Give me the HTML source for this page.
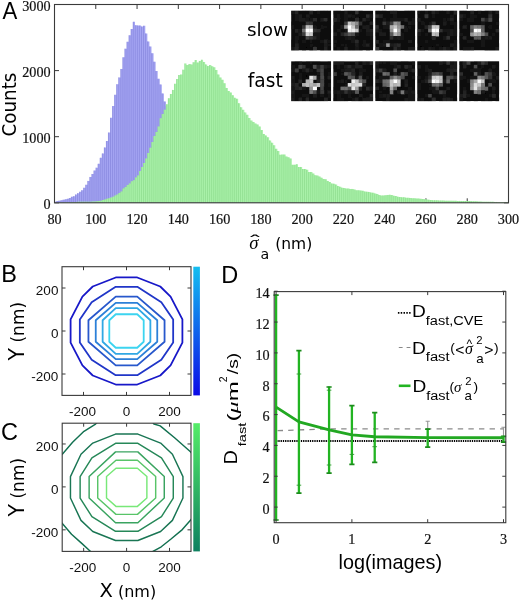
<!DOCTYPE html><html><head><meta charset="utf-8"><style>html,body{margin:0;padding:0;background:#fff;width:520px;height:601px;overflow:hidden}svg{display:block}</style></head><body><svg width="520" height="601" viewBox="0 0 520 601"><path d="M54.5 202.8v-4.5M54.5 4.5v4.5M95.77 202.8v-4.5M95.77 4.5v4.5M137.05 202.8v-4.5M137.05 4.5v4.5M178.32 202.8v-4.5M178.32 4.5v4.5M219.59 202.8v-4.5M219.59 4.5v4.5M260.86 202.8v-4.5M260.86 4.5v4.5M302.14 202.8v-4.5M302.14 4.5v4.5M343.41 202.8v-4.5M343.41 4.5v4.5M384.68 202.8v-4.5M384.68 4.5v4.5M425.95 202.8v-4.5M425.95 4.5v4.5M467.23 202.8v-4.5M467.23 4.5v4.5M508.5 202.8v-4.5M508.5 4.5v4.5M54.5 202.8h4.5M508.5 202.8h-4.5M54.5 136.7h4.5M508.5 136.7h-4.5M54.5 70.6h4.5M508.5 70.6h-4.5M54.5 4.5h4.5M508.5 4.5h-4.5" stroke="#3a3a3a" stroke-width="1" fill="none"/><path d="M54.5 202.8V201.63H56.56V201.04H58.63V200.63H60.69V200.14H62.75V199.75H64.82V199.36H66.88V198.86H68.95V198H71.01V196.85H73.07V196.16H75.14V194.54H77.2V193.16H79.26V191.83H81.33V190.21H83.39V187.81H85.45V184.8H87.52V180.88H89.58V176.92H91.65V173.94H93.71V170.59H95.77V167.66H97.84V163.85H99.9V157.84H101.96V153.42H104.03V147.49H106.09V141.04H108.15V132.6H110.22V117.85H112.28V106.09H114.35V94.83H116.41V84.19H118.47V77.38H120.54V68.95H122.6V57.35H124.66V48.66H126.73V41.83H128.79V35.27H130.85V29.06H132.92V21.87H134.98V25.16H137.05V25.39H139.11V25.62H141.17V26.58H143.24V25.82H145.3V33.44H147.36V41.44H149.43V46.46H151.49V53.24H153.55V61.66H155.62V71.08H157.68V78.82H159.75V84.41H161.81V93.41H163.87V101.44H165.94V106.42H168V113.65H170.06V121.82H172.13V127.13H174.19V135.49H176.25V141.81H178.32V146.99H180.38V153.15H182.45V157.07H184.51V162.64H186.57V165.63H188.64V170.84H190.7V174.73H192.76V177.76H194.83V179.47H196.89V182.94H198.95V186.06H201.02V187.23H203.08V189.08H205.15V189.89H207.21V191.55H209.27V192.71H211.34V194.43H213.4V195.62H215.46V196.26H217.53V196.55H219.59V197.27H221.65V197.6H223.72V198H225.78V198.44H227.85V198.8H229.91V199.15H231.97V199.56H234.04V199.98H236.1V200.48H238.16V200.8H240.23V201.02H242.29V201.07H244.35V201.14H246.42V201.2H248.48V201.21H250.55V201.25H252.61V201.34H254.67V201.42H256.74V201.46H258.8V201.5H260.86V201.54H262.93V201.6H264.99V201.65H267.05V201.72H269.12V201.74H271.18V201.81H273.25V201.86H275.31V201.92H277.37V201.96H279.44V202.04H281.5V202.08H283.56V202.13H285.63V202.15H287.69V202.22H289.75V202.26H291.82V202.33H293.88V202.36H295.95V202.43H298.01V202.48H300.07V202.5H302.14V202.5H304.2V202.5H306.26V202.51H308.33V202.52H310.39V202.53H312.45V202.52H314.52V202.53H316.58V202.53H318.65V202.54H320.71V202.53H322.77V202.54H324.84V202.53H326.9V202.54H328.96V202.54H331.03V202.55H333.09V202.55H335.15V202.55H337.22V202.55H339.28V202.56H341.35V202.56H343.41V202.56H345.47V202.57H347.54V202.58H349.6V202.57H351.66V202.57H353.73V202.57H355.79V202.58H357.85V202.59H359.92V202.59H361.98V202.59H364.05V202.59H366.11V202.6H368.17V202.6H370.24V202.6H372.3V202.6H374.36V202.61H376.43V202.61H378.49V202.61H380.55V202.61H382.62V202.62H384.68V202.62H386.75V202.62H388.81V202.63H390.87V202.63H392.94V202.64H395V202.64H397.06V202.64H399.13V202.65H401.19V202.64H403.25V202.65H405.32V202.65H407.38V202.66H409.45V202.66H411.51V202.66H413.57V202.67H415.64V202.67H417.7V202.67H419.76V202.67H421.83V202.67H423.89V202.68H425.95V202.68H428.02V202.69H430.08V202.69H432.15V202.69H434.21V202.69H436.27V202.7H438.34V202.7H440.4V202.7H442.46V202.7H444.53V202.71H446.59V202.71H448.65V202.72H450.72V202.72H452.78V202.72H454.85V202.72H456.91V202.72H458.97V202.73H461.04V202.73H463.1V202.73H465.16V202.74H467.23V202.74H469.29V202.74H471.35V202.75H473.42V202.75H475.48V202.75H477.55V202.76H479.61V202.76H481.67V202.76H483.74V202.76H485.8V202.77H487.86V202.77H489.93V202.77H491.99V202.78H494.05V202.78H496.12V202.78H498.18V202.78H500.25V202.79H502.31V202.79H504.37V202.79H506.44V202.8H508.5V202.8Z" fill="#a5a5f3"/><path d="M54.8 201.63V202.8M56.86 201.04V202.8M58.93 200.63V202.8M60.99 200.14V202.8M63.05 199.75V202.8M65.12 199.36V202.8M67.18 198.86V202.8M69.25 198V202.8M71.31 196.85V202.8M73.37 196.16V202.8M75.44 194.54V202.8M77.5 193.16V202.8M79.56 191.83V202.8M81.63 190.21V202.8M83.69 187.81V202.8M85.75 184.8V202.8M87.82 180.88V202.8M89.88 176.92V202.8M91.95 173.94V202.8M94.01 170.59V202.8M96.07 167.66V202.8M98.14 163.85V202.8M100.2 157.84V202.8M102.26 153.42V202.8M104.33 147.49V202.8M106.39 141.04V202.8M108.45 132.6V202.8M110.52 117.85V202.8M112.58 106.09V202.8M114.65 94.83V202.8M116.71 84.19V202.8M118.77 77.38V202.8M120.84 68.95V202.8M122.9 57.35V202.8M124.96 48.66V202.8M127.03 41.83V202.8M129.09 35.27V202.8M131.15 29.06V202.8M133.22 21.87V202.8M135.28 25.16V202.8M137.35 25.39V202.8M139.41 25.62V202.8M141.47 26.58V202.8M143.54 25.82V202.8M145.6 33.44V202.8M147.66 41.44V202.8M149.73 46.46V202.8M151.79 53.24V202.8M153.85 61.66V202.8M155.92 71.08V202.8M157.98 78.82V202.8M160.05 84.41V202.8M162.11 93.41V202.8M164.17 101.44V202.8M166.24 106.42V202.8M168.3 113.65V202.8M170.36 121.82V202.8M172.43 127.13V202.8M174.49 135.49V202.8M176.55 141.81V202.8M178.62 146.99V202.8M180.68 153.15V202.8M182.75 157.07V202.8M184.81 162.64V202.8M186.87 165.63V202.8M188.94 170.84V202.8M191 174.73V202.8M193.06 177.76V202.8M195.13 179.47V202.8M197.19 182.94V202.8M199.25 186.06V202.8M201.32 187.23V202.8M203.38 189.08V202.8M205.45 189.89V202.8M207.51 191.55V202.8M209.57 192.71V202.8M211.64 194.43V202.8M213.7 195.62V202.8M215.76 196.26V202.8M217.83 196.55V202.8M219.89 197.27V202.8M221.95 197.6V202.8M224.02 198V202.8M226.08 198.44V202.8M228.15 198.8V202.8M230.21 199.15V202.8M232.27 199.56V202.8M234.34 199.98V202.8M236.4 200.48V202.8M238.46 200.8V202.8M240.53 201.02V202.8M242.59 201.07V202.8M244.65 201.14V202.8M246.72 201.2V202.8M248.78 201.21V202.8M250.85 201.25V202.8M252.91 201.34V202.8M254.97 201.42V202.8M257.04 201.46V202.8M259.1 201.5V202.8M261.16 201.54V202.8M263.23 201.6V202.8M265.29 201.65V202.8M267.35 201.72V202.8M269.42 201.74V202.8M271.48 201.81V202.8M273.55 201.86V202.8M275.61 201.92V202.8M277.67 201.96V202.8" stroke="#8080d8" stroke-width="0.6" fill="none"/><path d="M54.5 202.8V202.76H56.56V202.68H58.63V202.59H60.69V202.52H62.75V202.44H64.82V202.34H66.88V202.28H68.95V202.19H71.01V202.1H73.07V202.04H75.14V201.94H77.2V201.84H79.26V201.79H81.33V201.76H83.39V201.74H85.45V201.69H87.52V201.69H89.58V201.66H91.65V201.6H93.71V201.5H95.77V201.22H97.84V200.91H99.9V200.69H101.96V200.08H104.03V199.41H106.09V198.8H108.15V198.17H110.22V197.6H112.28V196.64H114.35V195.59H116.41V194.4H118.47V193.09H120.54V191.38H122.6V188.45H124.66V186.88H126.73V185.1H128.79V183.58H130.85V181.24H132.92V180.17H134.98V177.44H137.05V175.44H139.11V171.04H141.17V166.91H143.24V162.97H145.3V158.47H147.36V152.96H149.43V147.68H151.49V141.93H153.55V136.09H155.62V131.91H157.68V126.47H159.75V118.19H161.81V113.97H163.87V109.73H165.94V104.33H168V98.32H170.06V93.98H172.13V89.89H174.19V83.87H176.25V79.05H178.32V75.01H180.38V74.48H182.45V69.67H184.51V63.5H186.57V65.09H188.64V64.07H190.7V64.39H192.76V62.26H194.83V60.12H196.89V62.57H198.95V60.9H201.02V59.85H203.08V61.92H205.15V64.42H207.21V66.11H209.27V65.03H211.34V66.22H213.4V67.27H215.46V69.98H217.53V74.44H219.59V77.51H221.65V79.85H223.72V83.27H225.78V87.91H227.85V90.94H229.91V92.62H231.97V95.29H234.04V97.82H236.1V98.81H238.16V103.2H240.23V107.13H242.29V109.87H244.35V112.39H246.42V114.83H248.48V117.92H250.55V120.59H252.61V121.89H254.67V123.49H256.74V124.47H258.8V126.55H260.86V130.12H262.93V133.96H264.99V135.45H267.05V137.34H269.12V140.41H271.18V142.63H273.25V145.32H275.31V148.86H277.37V150.95H279.44V154.68H281.5V154.52H283.56V154.62H285.63V156.5H287.69V157.28H289.75V158.48H291.82V164.85H293.88V164.79H295.95V164.22H298.01V167.02H300.07V166.94H302.14V169.05H304.2V168.99H306.26V169.77H308.33V172.11H310.39V171.94H312.45V173.56H314.52V175.13H316.58V175.6H318.65V176.54H320.71V177.63H322.77V178.92H324.84V179.36H326.9V180.88H328.96V181.91H331.03V183.47H333.09V183.72H335.15V184.6H337.22V186.06H339.28V186.81H341.35V187.72H343.41V188.04H345.47V188.62H347.54V188.58H349.6V189.05H351.66V188.88H353.73V189.55H355.79V190.35H357.85V190.26H359.92V190.59H361.98V190.84H364.05V191.48H366.11V191.76H368.17V191.9H370.24V192.55H372.3V192.84H374.36V193.51H376.43V194.02H378.49V195.01H380.55V195.54H382.62V195.4H384.68V195.14H386.75V194.95H388.81V194.86H390.87V195.03H392.94V195.67H395V196.11H397.06V196.68H399.13V197.12H401.19V197.3H403.25V197.32H405.32V197.65H407.38V197.85H409.45V197.96H411.51V198.14H413.57V198.23H415.64V198.4H417.7V198.53H419.76V198.83H421.83V198.98H423.89V199.2H425.95V199.42H428.02V199.74H430.08V200.06H432.15V200.17H434.21V200.2H436.27V200.36H438.34V200.44H440.4V200.5H442.46V200.57H444.53V200.65H446.59V200.68H448.65V200.73H450.72V200.73H452.78V200.85H454.85V200.86H456.91V200.96H458.97V200.88H461.04V200.98H463.1V201.02H465.16V201.02H467.23V201.07H469.29V201.11H471.35V201.18H473.42V201.25H475.48V201.36H477.55V201.48H479.61V201.58H481.67V201.65H483.74V201.72H485.8V201.76H487.86V201.82H489.93V201.83H491.99V201.87H494.05V201.93H496.12V201.96H498.18V202.01H500.25V202.05H502.31V202.1H504.37V202.13H506.44V202.19H508.5V202.8Z" fill="#a9f1a9"/><path d="M75.44 201.94V202.8M77.5 201.84V202.8M79.56 201.79V202.8M81.63 201.76V202.8M83.69 201.74V202.8M85.75 201.69V202.8M87.82 201.69V202.8M89.88 201.66V202.8M91.95 201.6V202.8M94.01 201.5V202.8M96.07 201.22V202.8M98.14 200.91V202.8M100.2 200.69V202.8M102.26 200.08V202.8M104.33 199.41V202.8M106.39 198.8V202.8M108.45 198.17V202.8M110.52 197.6V202.8M112.58 196.64V202.8M114.65 195.59V202.8M116.71 194.4V202.8M118.77 193.09V202.8M120.84 191.38V202.8M122.9 188.45V202.8M124.96 186.88V202.8M127.03 185.1V202.8M129.09 183.58V202.8M131.15 181.24V202.8M133.22 180.17V202.8M135.28 177.44V202.8M137.35 175.44V202.8M139.41 171.04V202.8M141.47 166.91V202.8M143.54 162.97V202.8M145.6 158.47V202.8M147.66 152.96V202.8M149.73 147.68V202.8M151.79 141.93V202.8M153.85 136.09V202.8M155.92 131.91V202.8M157.98 126.47V202.8M160.05 118.19V202.8M162.11 113.97V202.8M164.17 109.73V202.8M166.24 104.33V202.8M168.3 98.32V202.8M170.36 93.98V202.8M172.43 89.89V202.8M174.49 83.87V202.8M176.55 79.05V202.8M178.62 75.01V202.8M180.68 74.48V202.8M182.75 69.67V202.8M184.81 63.5V202.8M186.87 65.09V202.8M188.94 64.07V202.8M191 64.39V202.8M193.06 62.26V202.8M195.13 60.12V202.8M197.19 62.57V202.8M199.25 60.9V202.8M201.32 59.85V202.8M203.38 61.92V202.8M205.45 64.42V202.8M207.51 66.11V202.8M209.57 65.03V202.8M211.64 66.22V202.8M213.7 67.27V202.8M215.76 69.98V202.8M217.83 74.44V202.8M219.89 77.51V202.8M221.95 79.85V202.8M224.02 83.27V202.8M226.08 87.91V202.8M228.15 90.94V202.8M230.21 92.62V202.8M232.27 95.29V202.8M234.34 97.82V202.8M236.4 98.81V202.8M238.46 103.2V202.8M240.53 107.13V202.8M242.59 109.87V202.8M244.65 112.39V202.8M246.72 114.83V202.8M248.78 117.92V202.8M250.85 120.59V202.8M252.91 121.89V202.8M254.97 123.49V202.8M257.04 124.47V202.8M259.1 126.55V202.8M261.16 130.12V202.8M263.23 133.96V202.8M265.29 135.45V202.8M267.35 137.34V202.8M269.42 140.41V202.8M271.48 142.63V202.8M273.55 145.32V202.8M275.61 148.86V202.8M277.67 150.95V202.8M279.74 154.68V202.8M281.8 154.52V202.8M283.86 154.62V202.8M285.93 156.5V202.8M287.99 157.28V202.8M290.05 158.48V202.8M292.12 164.85V202.8M294.18 164.79V202.8M296.25 164.22V202.8M298.31 167.02V202.8M300.37 166.94V202.8M302.44 169.05V202.8M304.5 168.99V202.8M306.56 169.77V202.8M308.63 172.11V202.8M310.69 171.94V202.8M312.75 173.56V202.8M314.82 175.13V202.8M316.88 175.6V202.8M318.95 176.54V202.8M321.01 177.63V202.8M323.07 178.92V202.8M325.14 179.36V202.8M327.2 180.88V202.8M329.26 181.91V202.8M331.33 183.47V202.8M333.39 183.72V202.8M335.45 184.6V202.8M337.52 186.06V202.8M339.58 186.81V202.8M341.65 187.72V202.8M343.71 188.04V202.8M345.77 188.62V202.8M347.84 188.58V202.8M349.9 189.05V202.8M351.96 188.88V202.8M354.03 189.55V202.8M356.09 190.35V202.8M358.15 190.26V202.8M360.22 190.59V202.8M362.28 190.84V202.8M364.35 191.48V202.8M366.41 191.76V202.8M368.47 191.9V202.8M370.54 192.55V202.8M372.6 192.84V202.8M374.66 193.51V202.8M376.73 194.02V202.8M378.79 195.01V202.8M380.85 195.54V202.8M382.92 195.4V202.8M384.98 195.14V202.8M387.05 194.95V202.8M389.11 194.86V202.8M391.17 195.03V202.8M393.24 195.67V202.8M395.3 196.11V202.8M397.36 196.68V202.8M399.43 197.12V202.8M401.49 197.3V202.8M403.55 197.32V202.8M405.62 197.65V202.8M407.68 197.85V202.8M409.75 197.96V202.8M411.81 198.14V202.8M413.87 198.23V202.8M415.94 198.4V202.8M418 198.53V202.8M420.06 198.83V202.8M422.13 198.98V202.8M424.19 199.2V202.8M426.25 199.42V202.8M428.32 199.74V202.8M430.38 200.06V202.8M432.45 200.17V202.8M434.51 200.2V202.8M436.57 200.36V202.8M438.64 200.44V202.8M440.7 200.5V202.8M442.76 200.57V202.8M444.83 200.65V202.8M446.89 200.68V202.8M448.95 200.73V202.8M451.02 200.73V202.8M453.08 200.85V202.8M455.15 200.86V202.8M457.21 200.96V202.8M459.27 200.88V202.8M461.34 200.98V202.8M463.4 201.02V202.8M465.46 201.02V202.8M467.53 201.07V202.8M469.59 201.11V202.8M471.65 201.18V202.8M473.72 201.25V202.8M475.78 201.36V202.8M477.85 201.48V202.8M479.91 201.58V202.8M481.97 201.65V202.8M484.04 201.72V202.8M486.1 201.76V202.8M488.16 201.82V202.8M490.23 201.83V202.8M492.29 201.87V202.8M494.35 201.93V202.8M496.42 201.96V202.8" stroke="#88d788" stroke-width="0.6" fill="none"/><rect x="54.5" y="4.5" width="454" height="198.3" fill="none" stroke="#3a3a3a" stroke-width="1.1"/><g font-family="'Liberation Serif', serif" font-size="14.2" fill="#111" stroke="#111" stroke-width="0.2"><text x="54.5" y="223.6" text-anchor="middle">80</text><text x="95.77" y="223.6" text-anchor="middle">100</text><text x="137.05" y="223.6" text-anchor="middle">120</text><text x="178.32" y="223.6" text-anchor="middle">140</text><text x="219.59" y="223.6" text-anchor="middle">160</text><text x="260.86" y="223.6" text-anchor="middle">180</text><text x="302.14" y="223.6" text-anchor="middle">200</text><text x="343.41" y="223.6" text-anchor="middle">220</text><text x="384.68" y="223.6" text-anchor="middle">240</text><text x="425.95" y="223.6" text-anchor="middle">260</text><text x="467.23" y="223.6" text-anchor="middle">280</text><text x="508.5" y="223.6" text-anchor="middle">300</text><text x="50.6" y="209" text-anchor="end">0</text><text x="50.6" y="142.9" text-anchor="end">1000</text><text x="50.6" y="76.8" text-anchor="end">2000</text><text x="50.6" y="10.7" text-anchor="end">3000</text></g><text x="2.6" y="18.5" font-family="'Liberation Sans', sans-serif" font-size="23.2" fill="#000" textLength="14.8" lengthAdjust="spacingAndGlyphs">A</text><g transform="translate(15.5,136.6) rotate(-90)"><text x="0" y="0" font-family="'DejaVu Sans', sans-serif" font-size="19.6" fill="#000" textLength="64" lengthAdjust="spacingAndGlyphs">Counts</text></g><text x="249.2" y="248.5" font-family="'Liberation Serif', serif" font-size="18.7" fill="#000" font-style="italic">&#963;</text><text x="250.2" y="248.3" font-family="'Liberation Sans', sans-serif" font-size="19" fill="#000" textLength="9.6" lengthAdjust="spacingAndGlyphs">&#710;</text><text x="260.6" y="258.9" font-family="'DejaVu Sans', sans-serif" font-size="14.2" fill="#000">a</text><text x="275.2" y="248.9" font-family="'DejaVu Sans', sans-serif" font-size="15.5" fill="#000">(nm)</text><defs><filter id="blr" x="-5%" y="-5%" width="110%" height="110%"><feGaussianBlur stdDeviation="0.55"/></filter><clipPath id="imclip"><rect x="0" y="0" width="40" height="40"/></clipPath></defs><g transform="translate(291.1,10.6)" clip-path="url(#imclip)"><g filter="url(#blr)"><rect x="0" y="0" width="40" height="40" fill="#080808"/><rect x="0" y="0" width="4.04" height="4.04" fill="rgb(20,20,20)"/><rect x="3.64" y="0" width="4.04" height="4.04" fill="rgb(37,37,37)"/><rect x="7.27" y="0" width="4.04" height="4.04" fill="rgb(17,17,17)"/><rect x="10.91" y="0" width="4.04" height="4.04" fill="rgb(14,14,14)"/><rect x="14.55" y="0" width="4.04" height="4.04" fill="rgb(14,14,14)"/><rect x="18.18" y="0" width="4.04" height="4.04" fill="rgb(34,34,34)"/><rect x="25.45" y="0" width="4.04" height="4.04" fill="rgb(22,22,22)"/><rect x="29.09" y="0" width="4.04" height="4.04" fill="rgb(13,13,13)"/><rect x="32.73" y="0" width="4.04" height="4.04" fill="rgb(11,11,11)"/><rect x="36.36" y="0" width="4.04" height="4.04" fill="rgb(17,17,17)"/><rect x="3.64" y="3.64" width="4.04" height="4.04" fill="rgb(24,24,24)"/><rect x="7.27" y="3.64" width="4.04" height="4.04" fill="rgb(27,27,27)"/><rect x="14.55" y="3.64" width="4.04" height="4.04" fill="rgb(27,27,27)"/><rect x="25.45" y="3.64" width="4.04" height="4.04" fill="rgb(15,15,15)"/><rect x="29.09" y="3.64" width="4.04" height="4.04" fill="rgb(13,13,13)"/><rect x="3.64" y="7.27" width="4.04" height="4.04" fill="rgb(18,18,18)"/><rect x="7.27" y="7.27" width="4.04" height="4.04" fill="rgb(28,28,28)"/><rect x="10.91" y="7.27" width="4.04" height="4.04" fill="rgb(28,28,28)"/><rect x="14.55" y="7.27" width="4.04" height="4.04" fill="rgb(20,20,20)"/><rect x="18.18" y="7.27" width="4.04" height="4.04" fill="rgb(19,19,19)"/><rect x="21.82" y="7.27" width="4.04" height="4.04" fill="rgb(43,43,43)"/><rect x="29.09" y="7.27" width="4.04" height="4.04" fill="rgb(30,30,30)"/><rect x="32.73" y="7.27" width="4.04" height="4.04" fill="rgb(47,47,47)"/><rect x="36.36" y="7.27" width="4.04" height="4.04" fill="rgb(15,15,15)"/><rect x="0" y="10.91" width="4.04" height="4.04" fill="rgb(12,12,12)"/><rect x="3.64" y="10.91" width="4.04" height="4.04" fill="rgb(15,15,15)"/><rect x="7.27" y="10.91" width="4.04" height="4.04" fill="rgb(16,16,16)"/><rect x="14.55" y="10.91" width="4.04" height="4.04" fill="rgb(55,55,55)"/><rect x="18.18" y="10.91" width="4.04" height="4.04" fill="rgb(50,50,50)"/><rect x="21.82" y="10.91" width="4.04" height="4.04" fill="rgb(13,13,13)"/><rect x="29.09" y="10.91" width="4.04" height="4.04" fill="rgb(14,14,14)"/><rect x="32.73" y="10.91" width="4.04" height="4.04" fill="rgb(11,11,11)"/><rect x="36.36" y="10.91" width="4.04" height="4.04" fill="rgb(10,10,10)"/><rect x="0" y="14.55" width="4.04" height="4.04" fill="rgb(20,20,20)"/><rect x="3.64" y="14.55" width="4.04" height="4.04" fill="rgb(11,11,11)"/><rect x="10.91" y="14.55" width="4.04" height="4.04" fill="rgb(50,50,50)"/><rect x="14.55" y="14.55" width="4.04" height="4.04" fill="rgb(190,190,190)"/><rect x="18.18" y="14.55" width="4.04" height="4.04" fill="rgb(180,180,180)"/><rect x="21.82" y="14.55" width="4.04" height="4.04" fill="rgb(20,20,20)"/><rect x="29.09" y="14.55" width="4.04" height="4.04" fill="rgb(20,20,20)"/><rect x="32.73" y="14.55" width="4.04" height="4.04" fill="rgb(19,19,19)"/><rect x="3.64" y="18.18" width="4.04" height="4.04" fill="rgb(34,34,34)"/><rect x="7.27" y="18.18" width="4.04" height="4.04" fill="rgb(19,19,19)"/><rect x="10.91" y="18.18" width="4.04" height="4.04" fill="rgb(110,110,110)"/><rect x="14.55" y="18.18" width="4.04" height="4.04" fill="rgb(255,255,255)"/><rect x="18.18" y="18.18" width="4.04" height="4.04" fill="rgb(255,255,255)"/><rect x="21.82" y="18.18" width="4.04" height="4.04" fill="rgb(50,50,50)"/><rect x="25.45" y="18.18" width="4.04" height="4.04" fill="rgb(44,44,44)"/><rect x="32.73" y="18.18" width="4.04" height="4.04" fill="rgb(11,11,11)"/><rect x="36.36" y="18.18" width="4.04" height="4.04" fill="rgb(11,11,11)"/><rect x="7.27" y="21.82" width="4.04" height="4.04" fill="rgb(30,30,30)"/><rect x="10.91" y="21.82" width="4.04" height="4.04" fill="rgb(60,60,60)"/><rect x="14.55" y="21.82" width="4.04" height="4.04" fill="rgb(215,215,215)"/><rect x="18.18" y="21.82" width="4.04" height="4.04" fill="rgb(200,200,200)"/><rect x="21.82" y="21.82" width="4.04" height="4.04" fill="rgb(24,24,24)"/><rect x="25.45" y="21.82" width="4.04" height="4.04" fill="rgb(20,20,20)"/><rect x="29.09" y="21.82" width="4.04" height="4.04" fill="rgb(14,14,14)"/><rect x="32.73" y="21.82" width="4.04" height="4.04" fill="rgb(17,17,17)"/><rect x="3.64" y="25.45" width="4.04" height="4.04" fill="rgb(25,25,25)"/><rect x="10.91" y="25.45" width="4.04" height="4.04" fill="rgb(14,14,14)"/><rect x="14.55" y="25.45" width="4.04" height="4.04" fill="rgb(70,70,70)"/><rect x="18.18" y="25.45" width="4.04" height="4.04" fill="rgb(55,55,55)"/><rect x="21.82" y="25.45" width="4.04" height="4.04" fill="rgb(38,38,38)"/><rect x="25.45" y="25.45" width="4.04" height="4.04" fill="rgb(21,21,21)"/><rect x="29.09" y="25.45" width="4.04" height="4.04" fill="rgb(14,14,14)"/><rect x="32.73" y="25.45" width="4.04" height="4.04" fill="rgb(14,14,14)"/><rect x="0" y="29.09" width="4.04" height="4.04" fill="rgb(10,10,10)"/><rect x="3.64" y="29.09" width="4.04" height="4.04" fill="rgb(23,23,23)"/><rect x="7.27" y="29.09" width="4.04" height="4.04" fill="rgb(11,11,11)"/><rect x="10.91" y="29.09" width="4.04" height="4.04" fill="rgb(23,23,23)"/><rect x="14.55" y="29.09" width="4.04" height="4.04" fill="rgb(12,12,12)"/><rect x="18.18" y="29.09" width="4.04" height="4.04" fill="rgb(18,18,18)"/><rect x="21.82" y="29.09" width="4.04" height="4.04" fill="rgb(12,12,12)"/><rect x="25.45" y="29.09" width="4.04" height="4.04" fill="rgb(14,14,14)"/><rect x="29.09" y="29.09" width="4.04" height="4.04" fill="rgb(21,21,21)"/><rect x="32.73" y="29.09" width="4.04" height="4.04" fill="rgb(35,35,35)"/><rect x="36.36" y="29.09" width="4.04" height="4.04" fill="rgb(19,19,19)"/><rect x="0" y="32.73" width="4.04" height="4.04" fill="rgb(10,10,10)"/><rect x="3.64" y="32.73" width="4.04" height="4.04" fill="rgb(35,35,35)"/><rect x="10.91" y="32.73" width="4.04" height="4.04" fill="rgb(12,12,12)"/><rect x="18.18" y="32.73" width="4.04" height="4.04" fill="rgb(19,19,19)"/><rect x="21.82" y="32.73" width="4.04" height="4.04" fill="rgb(17,17,17)"/><rect x="29.09" y="32.73" width="4.04" height="4.04" fill="rgb(13,13,13)"/><rect x="32.73" y="32.73" width="4.04" height="4.04" fill="rgb(31,31,31)"/><rect x="36.36" y="32.73" width="4.04" height="4.04" fill="rgb(18,18,18)"/><rect x="0" y="36.36" width="4.04" height="4.04" fill="rgb(22,22,22)"/><rect x="3.64" y="36.36" width="4.04" height="4.04" fill="rgb(38,38,38)"/><rect x="10.91" y="36.36" width="4.04" height="4.04" fill="rgb(13,13,13)"/><rect x="18.18" y="36.36" width="4.04" height="4.04" fill="rgb(15,15,15)"/><rect x="21.82" y="36.36" width="4.04" height="4.04" fill="rgb(53,53,53)"/><rect x="29.09" y="36.36" width="4.04" height="4.04" fill="rgb(10,10,10)"/><rect x="32.73" y="36.36" width="4.04" height="4.04" fill="rgb(32,32,32)"/><rect x="36.36" y="36.36" width="4.04" height="4.04" fill="rgb(16,16,16)"/></g></g><g transform="translate(291.1,61.2)" clip-path="url(#imclip)"><g filter="url(#blr)"><rect x="0" y="0" width="40" height="40" fill="#080808"/><rect x="3.64" y="0" width="4.04" height="4.04" fill="rgb(11,11,11)"/><rect x="7.27" y="0" width="4.04" height="4.04" fill="rgb(18,18,18)"/><rect x="14.55" y="0" width="4.04" height="4.04" fill="rgb(15,15,15)"/><rect x="18.18" y="0" width="4.04" height="4.04" fill="rgb(19,19,19)"/><rect x="21.82" y="0" width="4.04" height="4.04" fill="rgb(12,12,12)"/><rect x="25.45" y="0" width="4.04" height="4.04" fill="rgb(11,11,11)"/><rect x="36.36" y="0" width="4.04" height="4.04" fill="rgb(10,10,10)"/><rect x="0" y="3.64" width="4.04" height="4.04" fill="rgb(21,21,21)"/><rect x="3.64" y="3.64" width="4.04" height="4.04" fill="rgb(13,13,13)"/><rect x="7.27" y="3.64" width="4.04" height="4.04" fill="rgb(66,66,66)"/><rect x="10.91" y="3.64" width="4.04" height="4.04" fill="rgb(50,50,50)"/><rect x="14.55" y="3.64" width="4.04" height="4.04" fill="rgb(14,14,14)"/><rect x="18.18" y="3.64" width="4.04" height="4.04" fill="rgb(15,15,15)"/><rect x="21.82" y="3.64" width="4.04" height="4.04" fill="rgb(80,80,80)"/><rect x="25.45" y="3.64" width="4.04" height="4.04" fill="rgb(32,32,32)"/><rect x="29.09" y="3.64" width="4.04" height="4.04" fill="rgb(60,60,60)"/><rect x="32.73" y="3.64" width="4.04" height="4.04" fill="rgb(26,26,26)"/><rect x="36.36" y="3.64" width="4.04" height="4.04" fill="rgb(19,19,19)"/><rect x="0" y="7.27" width="4.04" height="4.04" fill="rgb(20,20,20)"/><rect x="3.64" y="7.27" width="4.04" height="4.04" fill="rgb(60,60,60)"/><rect x="10.91" y="7.27" width="4.04" height="4.04" fill="rgb(25,25,25)"/><rect x="14.55" y="7.27" width="4.04" height="4.04" fill="rgb(40,40,40)"/><rect x="18.18" y="7.27" width="4.04" height="4.04" fill="rgb(18,18,18)"/><rect x="25.45" y="7.27" width="4.04" height="4.04" fill="rgb(50,50,50)"/><rect x="29.09" y="7.27" width="4.04" height="4.04" fill="rgb(70,70,70)"/><rect x="32.73" y="7.27" width="4.04" height="4.04" fill="rgb(15,15,15)"/><rect x="0" y="10.91" width="4.04" height="4.04" fill="rgb(14,14,14)"/><rect x="7.27" y="10.91" width="4.04" height="4.04" fill="rgb(18,18,18)"/><rect x="10.91" y="10.91" width="4.04" height="4.04" fill="rgb(11,11,11)"/><rect x="18.18" y="10.91" width="4.04" height="4.04" fill="rgb(10,10,10)"/><rect x="21.82" y="10.91" width="4.04" height="4.04" fill="rgb(13,13,13)"/><rect x="25.45" y="10.91" width="4.04" height="4.04" fill="rgb(18,18,18)"/><rect x="29.09" y="10.91" width="4.04" height="4.04" fill="rgb(70,70,70)"/><rect x="32.73" y="10.91" width="4.04" height="4.04" fill="rgb(13,13,13)"/><rect x="36.36" y="10.91" width="4.04" height="4.04" fill="rgb(22,22,22)"/><rect x="0" y="14.55" width="4.04" height="4.04" fill="rgb(27,27,27)"/><rect x="3.64" y="14.55" width="4.04" height="4.04" fill="rgb(12,12,12)"/><rect x="7.27" y="14.55" width="4.04" height="4.04" fill="rgb(23,23,23)"/><rect x="10.91" y="14.55" width="4.04" height="4.04" fill="rgb(17,17,17)"/><rect x="18.18" y="14.55" width="4.04" height="4.04" fill="rgb(230,230,230)"/><rect x="21.82" y="14.55" width="4.04" height="4.04" fill="rgb(170,170,170)"/><rect x="25.45" y="14.55" width="4.04" height="4.04" fill="rgb(19,19,19)"/><rect x="29.09" y="14.55" width="4.04" height="4.04" fill="rgb(75,75,75)"/><rect x="36.36" y="14.55" width="4.04" height="4.04" fill="rgb(33,33,33)"/><rect x="0" y="18.18" width="4.04" height="4.04" fill="rgb(25,25,25)"/><rect x="3.64" y="18.18" width="4.04" height="4.04" fill="rgb(14,14,14)"/><rect x="7.27" y="18.18" width="4.04" height="4.04" fill="rgb(39,39,39)"/><rect x="10.91" y="18.18" width="4.04" height="4.04" fill="rgb(11,11,11)"/><rect x="14.55" y="18.18" width="4.04" height="4.04" fill="rgb(180,180,180)"/><rect x="18.18" y="18.18" width="4.04" height="4.04" fill="rgb(200,200,200)"/><rect x="25.45" y="18.18" width="4.04" height="4.04" fill="rgb(33,33,33)"/><rect x="29.09" y="18.18" width="4.04" height="4.04" fill="rgb(70,70,70)"/><rect x="36.36" y="18.18" width="4.04" height="4.04" fill="rgb(15,15,15)"/><rect x="0" y="21.82" width="4.04" height="4.04" fill="rgb(29,29,29)"/><rect x="3.64" y="21.82" width="4.04" height="4.04" fill="rgb(39,39,39)"/><rect x="10.91" y="21.82" width="4.04" height="4.04" fill="rgb(170,170,170)"/><rect x="14.55" y="21.82" width="4.04" height="4.04" fill="rgb(190,190,190)"/><rect x="18.18" y="21.82" width="4.04" height="4.04" fill="rgb(180,180,180)"/><rect x="21.82" y="21.82" width="4.04" height="4.04" fill="rgb(160,160,160)"/><rect x="25.45" y="21.82" width="4.04" height="4.04" fill="rgb(190,190,190)"/><rect x="29.09" y="21.82" width="4.04" height="4.04" fill="rgb(75,75,75)"/><rect x="36.36" y="21.82" width="4.04" height="4.04" fill="rgb(21,21,21)"/><rect x="0" y="25.45" width="4.04" height="4.04" fill="rgb(20,20,20)"/><rect x="3.64" y="25.45" width="4.04" height="4.04" fill="rgb(36,36,36)"/><rect x="7.27" y="25.45" width="4.04" height="4.04" fill="rgb(42,42,42)"/><rect x="10.91" y="25.45" width="4.04" height="4.04" fill="rgb(19,19,19)"/><rect x="18.18" y="25.45" width="4.04" height="4.04" fill="rgb(150,150,150)"/><rect x="21.82" y="25.45" width="4.04" height="4.04" fill="rgb(255,255,255)"/><rect x="29.09" y="25.45" width="4.04" height="4.04" fill="rgb(70,70,70)"/><rect x="32.73" y="25.45" width="4.04" height="4.04" fill="rgb(15,15,15)"/><rect x="36.36" y="25.45" width="4.04" height="4.04" fill="rgb(16,16,16)"/><rect x="0" y="29.09" width="4.04" height="4.04" fill="rgb(30,30,30)"/><rect x="3.64" y="29.09" width="4.04" height="4.04" fill="rgb(12,12,12)"/><rect x="7.27" y="29.09" width="4.04" height="4.04" fill="rgb(12,12,12)"/><rect x="10.91" y="29.09" width="4.04" height="4.04" fill="rgb(10,10,10)"/><rect x="14.55" y="29.09" width="4.04" height="4.04" fill="rgb(13,13,13)"/><rect x="18.18" y="29.09" width="4.04" height="4.04" fill="rgb(120,120,120)"/><rect x="21.82" y="29.09" width="4.04" height="4.04" fill="rgb(80,80,80)"/><rect x="25.45" y="29.09" width="4.04" height="4.04" fill="rgb(23,23,23)"/><rect x="29.09" y="29.09" width="4.04" height="4.04" fill="rgb(60,60,60)"/><rect x="36.36" y="29.09" width="4.04" height="4.04" fill="rgb(32,32,32)"/><rect x="0" y="32.73" width="4.04" height="4.04" fill="rgb(20,20,20)"/><rect x="7.27" y="32.73" width="4.04" height="4.04" fill="rgb(11,11,11)"/><rect x="10.91" y="32.73" width="4.04" height="4.04" fill="rgb(19,19,19)"/><rect x="14.55" y="32.73" width="4.04" height="4.04" fill="rgb(19,19,19)"/><rect x="18.18" y="32.73" width="4.04" height="4.04" fill="rgb(11,11,11)"/><rect x="21.82" y="32.73" width="4.04" height="4.04" fill="rgb(31,31,31)"/><rect x="29.09" y="32.73" width="4.04" height="4.04" fill="rgb(21,21,21)"/><rect x="36.36" y="32.73" width="4.04" height="4.04" fill="rgb(19,19,19)"/><rect x="0" y="36.36" width="4.04" height="4.04" fill="rgb(30,30,30)"/><rect x="3.64" y="36.36" width="4.04" height="4.04" fill="rgb(14,14,14)"/><rect x="7.27" y="36.36" width="4.04" height="4.04" fill="rgb(33,33,33)"/><rect x="10.91" y="36.36" width="4.04" height="4.04" fill="rgb(12,12,12)"/><rect x="14.55" y="36.36" width="4.04" height="4.04" fill="rgb(39,39,39)"/><rect x="18.18" y="36.36" width="4.04" height="4.04" fill="rgb(11,11,11)"/><rect x="21.82" y="36.36" width="4.04" height="4.04" fill="rgb(10,10,10)"/><rect x="25.45" y="36.36" width="4.04" height="4.04" fill="rgb(17,17,17)"/><rect x="29.09" y="36.36" width="4.04" height="4.04" fill="rgb(12,12,12)"/><rect x="32.73" y="36.36" width="4.04" height="4.04" fill="rgb(39,39,39)"/></g></g><g transform="translate(333.2,10.6)" clip-path="url(#imclip)"><g filter="url(#blr)"><rect x="0" y="0" width="40" height="40" fill="#080808"/><rect x="0" y="0" width="4.04" height="4.04" fill="rgb(15,15,15)"/><rect x="3.64" y="0" width="4.04" height="4.04" fill="rgb(12,12,12)"/><rect x="10.91" y="0" width="4.04" height="4.04" fill="rgb(27,27,27)"/><rect x="14.55" y="0" width="4.04" height="4.04" fill="rgb(14,14,14)"/><rect x="18.18" y="0" width="4.04" height="4.04" fill="rgb(16,16,16)"/><rect x="21.82" y="0" width="4.04" height="4.04" fill="rgb(48,48,48)"/><rect x="25.45" y="0" width="4.04" height="4.04" fill="rgb(10,10,10)"/><rect x="3.64" y="3.64" width="4.04" height="4.04" fill="rgb(23,23,23)"/><rect x="7.27" y="3.64" width="4.04" height="4.04" fill="rgb(11,11,11)"/><rect x="10.91" y="3.64" width="4.04" height="4.04" fill="rgb(24,24,24)"/><rect x="14.55" y="3.64" width="4.04" height="4.04" fill="rgb(26,26,26)"/><rect x="18.18" y="3.64" width="4.04" height="4.04" fill="rgb(19,19,19)"/><rect x="21.82" y="3.64" width="4.04" height="4.04" fill="rgb(15,15,15)"/><rect x="29.09" y="3.64" width="4.04" height="4.04" fill="rgb(14,14,14)"/><rect x="32.73" y="3.64" width="4.04" height="4.04" fill="rgb(45,45,45)"/><rect x="36.36" y="3.64" width="4.04" height="4.04" fill="rgb(24,24,24)"/><rect x="0" y="7.27" width="4.04" height="4.04" fill="rgb(36,36,36)"/><rect x="3.64" y="7.27" width="4.04" height="4.04" fill="rgb(24,24,24)"/><rect x="7.27" y="7.27" width="4.04" height="4.04" fill="rgb(16,16,16)"/><rect x="10.91" y="7.27" width="4.04" height="4.04" fill="rgb(23,23,23)"/><rect x="14.55" y="7.27" width="4.04" height="4.04" fill="rgb(11,11,11)"/><rect x="21.82" y="7.27" width="4.04" height="4.04" fill="rgb(42,42,42)"/><rect x="29.09" y="7.27" width="4.04" height="4.04" fill="rgb(37,37,37)"/><rect x="32.73" y="7.27" width="4.04" height="4.04" fill="rgb(21,21,21)"/><rect x="7.27" y="10.91" width="4.04" height="4.04" fill="rgb(10,10,10)"/><rect x="10.91" y="10.91" width="4.04" height="4.04" fill="rgb(60,60,60)"/><rect x="14.55" y="10.91" width="4.04" height="4.04" fill="rgb(200,200,200)"/><rect x="18.18" y="10.91" width="4.04" height="4.04" fill="rgb(170,170,170)"/><rect x="21.82" y="10.91" width="4.04" height="4.04" fill="rgb(140,140,140)"/><rect x="25.45" y="10.91" width="4.04" height="4.04" fill="rgb(50,50,50)"/><rect x="29.09" y="10.91" width="4.04" height="4.04" fill="rgb(17,17,17)"/><rect x="32.73" y="10.91" width="4.04" height="4.04" fill="rgb(10,10,10)"/><rect x="36.36" y="10.91" width="4.04" height="4.04" fill="rgb(33,33,33)"/><rect x="0" y="14.55" width="4.04" height="4.04" fill="rgb(14,14,14)"/><rect x="3.64" y="14.55" width="4.04" height="4.04" fill="rgb(15,15,15)"/><rect x="7.27" y="14.55" width="4.04" height="4.04" fill="rgb(30,30,30)"/><rect x="10.91" y="14.55" width="4.04" height="4.04" fill="rgb(150,150,150)"/><rect x="14.55" y="14.55" width="4.04" height="4.04" fill="rgb(255,255,255)"/><rect x="18.18" y="14.55" width="4.04" height="4.04" fill="rgb(200,200,200)"/><rect x="21.82" y="14.55" width="4.04" height="4.04" fill="rgb(110,110,110)"/><rect x="29.09" y="14.55" width="4.04" height="4.04" fill="rgb(27,27,27)"/><rect x="32.73" y="14.55" width="4.04" height="4.04" fill="rgb(30,30,30)"/><rect x="36.36" y="14.55" width="4.04" height="4.04" fill="rgb(14,14,14)"/><rect x="0" y="18.18" width="4.04" height="4.04" fill="rgb(12,12,12)"/><rect x="3.64" y="18.18" width="4.04" height="4.04" fill="rgb(21,21,21)"/><rect x="10.91" y="18.18" width="4.04" height="4.04" fill="rgb(18,18,18)"/><rect x="14.55" y="18.18" width="4.04" height="4.04" fill="rgb(240,240,240)"/><rect x="18.18" y="18.18" width="4.04" height="4.04" fill="rgb(235,235,235)"/><rect x="21.82" y="18.18" width="4.04" height="4.04" fill="rgb(200,200,200)"/><rect x="25.45" y="18.18" width="4.04" height="4.04" fill="rgb(20,20,20)"/><rect x="32.73" y="18.18" width="4.04" height="4.04" fill="rgb(30,30,30)"/><rect x="36.36" y="18.18" width="4.04" height="4.04" fill="rgb(35,35,35)"/><rect x="0" y="21.82" width="4.04" height="4.04" fill="rgb(31,31,31)"/><rect x="3.64" y="21.82" width="4.04" height="4.04" fill="rgb(10,10,10)"/><rect x="7.27" y="21.82" width="4.04" height="4.04" fill="rgb(40,40,40)"/><rect x="10.91" y="21.82" width="4.04" height="4.04" fill="rgb(60,60,60)"/><rect x="14.55" y="21.82" width="4.04" height="4.04" fill="rgb(90,90,90)"/><rect x="18.18" y="21.82" width="4.04" height="4.04" fill="rgb(80,80,80)"/><rect x="21.82" y="21.82" width="4.04" height="4.04" fill="rgb(24,24,24)"/><rect x="29.09" y="21.82" width="4.04" height="4.04" fill="rgb(14,14,14)"/><rect x="32.73" y="21.82" width="4.04" height="4.04" fill="rgb(19,19,19)"/><rect x="36.36" y="21.82" width="4.04" height="4.04" fill="rgb(26,26,26)"/><rect x="0" y="25.45" width="4.04" height="4.04" fill="rgb(11,11,11)"/><rect x="7.27" y="25.45" width="4.04" height="4.04" fill="rgb(15,15,15)"/><rect x="10.91" y="25.45" width="4.04" height="4.04" fill="rgb(19,19,19)"/><rect x="14.55" y="25.45" width="4.04" height="4.04" fill="rgb(28,28,28)"/><rect x="18.18" y="25.45" width="4.04" height="4.04" fill="rgb(20,20,20)"/><rect x="25.45" y="25.45" width="4.04" height="4.04" fill="rgb(16,16,16)"/><rect x="29.09" y="25.45" width="4.04" height="4.04" fill="rgb(13,13,13)"/><rect x="32.73" y="25.45" width="4.04" height="4.04" fill="rgb(14,14,14)"/><rect x="36.36" y="25.45" width="4.04" height="4.04" fill="rgb(24,24,24)"/><rect x="0" y="29.09" width="4.04" height="4.04" fill="rgb(18,18,18)"/><rect x="7.27" y="29.09" width="4.04" height="4.04" fill="rgb(14,14,14)"/><rect x="18.18" y="29.09" width="4.04" height="4.04" fill="rgb(25,25,25)"/><rect x="21.82" y="29.09" width="4.04" height="4.04" fill="rgb(43,43,43)"/><rect x="25.45" y="29.09" width="4.04" height="4.04" fill="rgb(17,17,17)"/><rect x="29.09" y="29.09" width="4.04" height="4.04" fill="rgb(20,20,20)"/><rect x="32.73" y="29.09" width="4.04" height="4.04" fill="rgb(10,10,10)"/><rect x="36.36" y="29.09" width="4.04" height="4.04" fill="rgb(12,12,12)"/><rect x="0" y="32.73" width="4.04" height="4.04" fill="rgb(19,19,19)"/><rect x="3.64" y="32.73" width="4.04" height="4.04" fill="rgb(16,16,16)"/><rect x="7.27" y="32.73" width="4.04" height="4.04" fill="rgb(18,18,18)"/><rect x="10.91" y="32.73" width="4.04" height="4.04" fill="rgb(19,19,19)"/><rect x="14.55" y="32.73" width="4.04" height="4.04" fill="rgb(13,13,13)"/><rect x="18.18" y="32.73" width="4.04" height="4.04" fill="rgb(16,16,16)"/><rect x="21.82" y="32.73" width="4.04" height="4.04" fill="rgb(28,28,28)"/><rect x="25.45" y="32.73" width="4.04" height="4.04" fill="rgb(16,16,16)"/><rect x="29.09" y="32.73" width="4.04" height="4.04" fill="rgb(22,22,22)"/><rect x="32.73" y="32.73" width="4.04" height="4.04" fill="rgb(33,33,33)"/><rect x="36.36" y="32.73" width="4.04" height="4.04" fill="rgb(11,11,11)"/><rect x="0" y="36.36" width="4.04" height="4.04" fill="rgb(17,17,17)"/><rect x="3.64" y="36.36" width="4.04" height="4.04" fill="rgb(18,18,18)"/><rect x="7.27" y="36.36" width="4.04" height="4.04" fill="rgb(14,14,14)"/><rect x="10.91" y="36.36" width="4.04" height="4.04" fill="rgb(32,32,32)"/><rect x="14.55" y="36.36" width="4.04" height="4.04" fill="rgb(10,10,10)"/><rect x="18.18" y="36.36" width="4.04" height="4.04" fill="rgb(14,14,14)"/><rect x="21.82" y="36.36" width="4.04" height="4.04" fill="rgb(24,24,24)"/><rect x="25.45" y="36.36" width="4.04" height="4.04" fill="rgb(11,11,11)"/><rect x="32.73" y="36.36" width="4.04" height="4.04" fill="rgb(12,12,12)"/></g></g><g transform="translate(333.2,61.2)" clip-path="url(#imclip)"><g filter="url(#blr)"><rect x="0" y="0" width="40" height="40" fill="#080808"/><rect x="0" y="0" width="4.04" height="4.04" fill="rgb(30,30,30)"/><rect x="3.64" y="0" width="4.04" height="4.04" fill="rgb(31,31,31)"/><rect x="7.27" y="0" width="4.04" height="4.04" fill="rgb(27,27,27)"/><rect x="21.82" y="0" width="4.04" height="4.04" fill="rgb(33,33,33)"/><rect x="25.45" y="0" width="4.04" height="4.04" fill="rgb(12,12,12)"/><rect x="29.09" y="0" width="4.04" height="4.04" fill="rgb(31,31,31)"/><rect x="32.73" y="0" width="4.04" height="4.04" fill="rgb(25,25,25)"/><rect x="36.36" y="0" width="4.04" height="4.04" fill="rgb(41,41,41)"/><rect x="0" y="3.64" width="4.04" height="4.04" fill="rgb(16,16,16)"/><rect x="3.64" y="3.64" width="4.04" height="4.04" fill="rgb(23,23,23)"/><rect x="7.27" y="3.64" width="4.04" height="4.04" fill="rgb(15,15,15)"/><rect x="10.91" y="3.64" width="4.04" height="4.04" fill="rgb(31,31,31)"/><rect x="14.55" y="3.64" width="4.04" height="4.04" fill="rgb(43,43,43)"/><rect x="18.18" y="3.64" width="4.04" height="4.04" fill="rgb(23,23,23)"/><rect x="21.82" y="3.64" width="4.04" height="4.04" fill="rgb(34,34,34)"/><rect x="25.45" y="3.64" width="4.04" height="4.04" fill="rgb(32,32,32)"/><rect x="32.73" y="3.64" width="4.04" height="4.04" fill="rgb(16,16,16)"/><rect x="7.27" y="7.27" width="4.04" height="4.04" fill="rgb(19,19,19)"/><rect x="10.91" y="7.27" width="4.04" height="4.04" fill="rgb(26,26,26)"/><rect x="14.55" y="7.27" width="4.04" height="4.04" fill="rgb(28,28,28)"/><rect x="18.18" y="7.27" width="4.04" height="4.04" fill="rgb(39,39,39)"/><rect x="21.82" y="7.27" width="4.04" height="4.04" fill="rgb(12,12,12)"/><rect x="25.45" y="7.27" width="4.04" height="4.04" fill="rgb(19,19,19)"/><rect x="29.09" y="7.27" width="4.04" height="4.04" fill="rgb(24,24,24)"/><rect x="32.73" y="7.27" width="4.04" height="4.04" fill="rgb(14,14,14)"/><rect x="36.36" y="7.27" width="4.04" height="4.04" fill="rgb(10,10,10)"/><rect x="0" y="10.91" width="4.04" height="4.04" fill="rgb(58,58,58)"/><rect x="3.64" y="10.91" width="4.04" height="4.04" fill="rgb(14,14,14)"/><rect x="7.27" y="10.91" width="4.04" height="4.04" fill="rgb(19,19,19)"/><rect x="10.91" y="10.91" width="4.04" height="4.04" fill="rgb(90,90,90)"/><rect x="14.55" y="10.91" width="4.04" height="4.04" fill="rgb(70,70,70)"/><rect x="18.18" y="10.91" width="4.04" height="4.04" fill="rgb(37,37,37)"/><rect x="25.45" y="10.91" width="4.04" height="4.04" fill="rgb(28,28,28)"/><rect x="36.36" y="10.91" width="4.04" height="4.04" fill="rgb(14,14,14)"/><rect x="3.64" y="14.55" width="4.04" height="4.04" fill="rgb(10,10,10)"/><rect x="7.27" y="14.55" width="4.04" height="4.04" fill="rgb(11,11,11)"/><rect x="10.91" y="14.55" width="4.04" height="4.04" fill="rgb(16,16,16)"/><rect x="14.55" y="14.55" width="4.04" height="4.04" fill="rgb(90,90,90)"/><rect x="18.18" y="14.55" width="4.04" height="4.04" fill="rgb(80,80,80)"/><rect x="21.82" y="14.55" width="4.04" height="4.04" fill="rgb(21,21,21)"/><rect x="25.45" y="14.55" width="4.04" height="4.04" fill="rgb(80,80,80)"/><rect x="29.09" y="14.55" width="4.04" height="4.04" fill="rgb(11,11,11)"/><rect x="32.73" y="14.55" width="4.04" height="4.04" fill="rgb(20,20,20)"/><rect x="36.36" y="14.55" width="4.04" height="4.04" fill="rgb(15,15,15)"/><rect x="3.64" y="18.18" width="4.04" height="4.04" fill="rgb(19,19,19)"/><rect x="7.27" y="18.18" width="4.04" height="4.04" fill="rgb(26,26,26)"/><rect x="10.91" y="18.18" width="4.04" height="4.04" fill="rgb(18,18,18)"/><rect x="14.55" y="18.18" width="4.04" height="4.04" fill="rgb(11,11,11)"/><rect x="18.18" y="18.18" width="4.04" height="4.04" fill="rgb(240,240,240)"/><rect x="21.82" y="18.18" width="4.04" height="4.04" fill="rgb(200,200,200)"/><rect x="25.45" y="18.18" width="4.04" height="4.04" fill="rgb(120,120,120)"/><rect x="29.09" y="18.18" width="4.04" height="4.04" fill="rgb(80,80,80)"/><rect x="36.36" y="18.18" width="4.04" height="4.04" fill="rgb(11,11,11)"/><rect x="7.27" y="21.82" width="4.04" height="4.04" fill="rgb(15,15,15)"/><rect x="10.91" y="21.82" width="4.04" height="4.04" fill="rgb(18,18,18)"/><rect x="14.55" y="21.82" width="4.04" height="4.04" fill="rgb(220,220,220)"/><rect x="18.18" y="21.82" width="4.04" height="4.04" fill="rgb(200,200,200)"/><rect x="21.82" y="21.82" width="4.04" height="4.04" fill="rgb(210,210,210)"/><rect x="25.45" y="21.82" width="4.04" height="4.04" fill="rgb(220,220,220)"/><rect x="29.09" y="21.82" width="4.04" height="4.04" fill="rgb(34,34,34)"/><rect x="32.73" y="21.82" width="4.04" height="4.04" fill="rgb(16,16,16)"/><rect x="36.36" y="21.82" width="4.04" height="4.04" fill="rgb(16,16,16)"/><rect x="0" y="25.45" width="4.04" height="4.04" fill="rgb(17,17,17)"/><rect x="3.64" y="25.45" width="4.04" height="4.04" fill="rgb(16,16,16)"/><rect x="7.27" y="25.45" width="4.04" height="4.04" fill="rgb(110,110,110)"/><rect x="10.91" y="25.45" width="4.04" height="4.04" fill="rgb(110,110,110)"/><rect x="14.55" y="25.45" width="4.04" height="4.04" fill="rgb(80,80,80)"/><rect x="18.18" y="25.45" width="4.04" height="4.04" fill="rgb(230,230,230)"/><rect x="21.82" y="25.45" width="4.04" height="4.04" fill="rgb(160,160,160)"/><rect x="25.45" y="25.45" width="4.04" height="4.04" fill="rgb(40,40,40)"/><rect x="29.09" y="25.45" width="4.04" height="4.04" fill="rgb(11,11,11)"/><rect x="32.73" y="25.45" width="4.04" height="4.04" fill="rgb(41,41,41)"/><rect x="36.36" y="25.45" width="4.04" height="4.04" fill="rgb(29,29,29)"/><rect x="0" y="29.09" width="4.04" height="4.04" fill="rgb(24,24,24)"/><rect x="3.64" y="29.09" width="4.04" height="4.04" fill="rgb(30,30,30)"/><rect x="7.27" y="29.09" width="4.04" height="4.04" fill="rgb(21,21,21)"/><rect x="10.91" y="29.09" width="4.04" height="4.04" fill="rgb(48,48,48)"/><rect x="14.55" y="29.09" width="4.04" height="4.04" fill="rgb(29,29,29)"/><rect x="18.18" y="29.09" width="4.04" height="4.04" fill="rgb(26,26,26)"/><rect x="21.82" y="29.09" width="4.04" height="4.04" fill="rgb(90,90,90)"/><rect x="3.64" y="32.73" width="4.04" height="4.04" fill="rgb(21,21,21)"/><rect x="10.91" y="32.73" width="4.04" height="4.04" fill="rgb(15,15,15)"/><rect x="14.55" y="32.73" width="4.04" height="4.04" fill="rgb(24,24,24)"/><rect x="18.18" y="32.73" width="4.04" height="4.04" fill="rgb(17,17,17)"/><rect x="21.82" y="32.73" width="4.04" height="4.04" fill="rgb(11,11,11)"/><rect x="25.45" y="32.73" width="4.04" height="4.04" fill="rgb(26,26,26)"/><rect x="32.73" y="32.73" width="4.04" height="4.04" fill="rgb(10,10,10)"/><rect x="36.36" y="32.73" width="4.04" height="4.04" fill="rgb(41,41,41)"/><rect x="0" y="36.36" width="4.04" height="4.04" fill="rgb(12,12,12)"/><rect x="3.64" y="36.36" width="4.04" height="4.04" fill="rgb(23,23,23)"/><rect x="7.27" y="36.36" width="4.04" height="4.04" fill="rgb(18,18,18)"/><rect x="10.91" y="36.36" width="4.04" height="4.04" fill="rgb(13,13,13)"/><rect x="18.18" y="36.36" width="4.04" height="4.04" fill="rgb(22,22,22)"/><rect x="21.82" y="36.36" width="4.04" height="4.04" fill="rgb(34,34,34)"/><rect x="25.45" y="36.36" width="4.04" height="4.04" fill="rgb(10,10,10)"/><rect x="29.09" y="36.36" width="4.04" height="4.04" fill="rgb(28,28,28)"/><rect x="32.73" y="36.36" width="4.04" height="4.04" fill="rgb(31,31,31)"/><rect x="36.36" y="36.36" width="4.04" height="4.04" fill="rgb(33,33,33)"/></g></g><g transform="translate(375.2,10.6)" clip-path="url(#imclip)"><g filter="url(#blr)"><rect x="0" y="0" width="40" height="40" fill="#080808"/><rect x="0" y="0" width="4.04" height="4.04" fill="rgb(13,13,13)"/><rect x="3.64" y="0" width="4.04" height="4.04" fill="rgb(17,17,17)"/><rect x="7.27" y="0" width="4.04" height="4.04" fill="rgb(12,12,12)"/><rect x="14.55" y="0" width="4.04" height="4.04" fill="rgb(30,30,30)"/><rect x="18.18" y="0" width="4.04" height="4.04" fill="rgb(29,29,29)"/><rect x="29.09" y="0" width="4.04" height="4.04" fill="rgb(11,11,11)"/><rect x="32.73" y="0" width="4.04" height="4.04" fill="rgb(14,14,14)"/><rect x="36.36" y="0" width="4.04" height="4.04" fill="rgb(10,10,10)"/><rect x="0" y="3.64" width="4.04" height="4.04" fill="rgb(45,45,45)"/><rect x="3.64" y="3.64" width="4.04" height="4.04" fill="rgb(36,36,36)"/><rect x="14.55" y="3.64" width="4.04" height="4.04" fill="rgb(16,16,16)"/><rect x="18.18" y="3.64" width="4.04" height="4.04" fill="rgb(24,24,24)"/><rect x="21.82" y="3.64" width="4.04" height="4.04" fill="rgb(12,12,12)"/><rect x="36.36" y="3.64" width="4.04" height="4.04" fill="rgb(14,14,14)"/><rect x="0" y="7.27" width="4.04" height="4.04" fill="rgb(16,16,16)"/><rect x="3.64" y="7.27" width="4.04" height="4.04" fill="rgb(17,17,17)"/><rect x="7.27" y="7.27" width="4.04" height="4.04" fill="rgb(20,20,20)"/><rect x="10.91" y="7.27" width="4.04" height="4.04" fill="rgb(16,16,16)"/><rect x="14.55" y="7.27" width="4.04" height="4.04" fill="rgb(19,19,19)"/><rect x="18.18" y="7.27" width="4.04" height="4.04" fill="rgb(22,22,22)"/><rect x="21.82" y="7.27" width="4.04" height="4.04" fill="rgb(20,20,20)"/><rect x="25.45" y="7.27" width="4.04" height="4.04" fill="rgb(18,18,18)"/><rect x="29.09" y="7.27" width="4.04" height="4.04" fill="rgb(32,32,32)"/><rect x="32.73" y="7.27" width="4.04" height="4.04" fill="rgb(13,13,13)"/><rect x="36.36" y="7.27" width="4.04" height="4.04" fill="rgb(20,20,20)"/><rect x="0" y="10.91" width="4.04" height="4.04" fill="rgb(11,11,11)"/><rect x="7.27" y="10.91" width="4.04" height="4.04" fill="rgb(55,55,55)"/><rect x="10.91" y="10.91" width="4.04" height="4.04" fill="rgb(26,26,26)"/><rect x="14.55" y="10.91" width="4.04" height="4.04" fill="rgb(60,60,60)"/><rect x="18.18" y="10.91" width="4.04" height="4.04" fill="rgb(150,150,150)"/><rect x="21.82" y="10.91" width="4.04" height="4.04" fill="rgb(130,130,130)"/><rect x="25.45" y="10.91" width="4.04" height="4.04" fill="rgb(11,11,11)"/><rect x="32.73" y="10.91" width="4.04" height="4.04" fill="rgb(29,29,29)"/><rect x="36.36" y="10.91" width="4.04" height="4.04" fill="rgb(21,21,21)"/><rect x="0" y="14.55" width="4.04" height="4.04" fill="rgb(47,47,47)"/><rect x="3.64" y="14.55" width="4.04" height="4.04" fill="rgb(10,10,10)"/><rect x="7.27" y="14.55" width="4.04" height="4.04" fill="rgb(24,24,24)"/><rect x="10.91" y="14.55" width="4.04" height="4.04" fill="rgb(22,22,22)"/><rect x="14.55" y="14.55" width="4.04" height="4.04" fill="rgb(170,170,170)"/><rect x="18.18" y="14.55" width="4.04" height="4.04" fill="rgb(200,200,200)"/><rect x="21.82" y="14.55" width="4.04" height="4.04" fill="rgb(150,150,150)"/><rect x="25.45" y="14.55" width="4.04" height="4.04" fill="rgb(110,110,110)"/><rect x="29.09" y="14.55" width="4.04" height="4.04" fill="rgb(18,18,18)"/><rect x="32.73" y="14.55" width="4.04" height="4.04" fill="rgb(18,18,18)"/><rect x="36.36" y="14.55" width="4.04" height="4.04" fill="rgb(12,12,12)"/><rect x="0" y="18.18" width="4.04" height="4.04" fill="rgb(33,33,33)"/><rect x="3.64" y="18.18" width="4.04" height="4.04" fill="rgb(24,24,24)"/><rect x="7.27" y="18.18" width="4.04" height="4.04" fill="rgb(12,12,12)"/><rect x="14.55" y="18.18" width="4.04" height="4.04" fill="rgb(150,150,150)"/><rect x="18.18" y="18.18" width="4.04" height="4.04" fill="rgb(255,255,255)"/><rect x="21.82" y="18.18" width="4.04" height="4.04" fill="rgb(170,170,170)"/><rect x="25.45" y="18.18" width="4.04" height="4.04" fill="rgb(11,11,11)"/><rect x="29.09" y="18.18" width="4.04" height="4.04" fill="rgb(24,24,24)"/><rect x="0" y="21.82" width="4.04" height="4.04" fill="rgb(13,13,13)"/><rect x="3.64" y="21.82" width="4.04" height="4.04" fill="rgb(31,31,31)"/><rect x="7.27" y="21.82" width="4.04" height="4.04" fill="rgb(29,29,29)"/><rect x="10.91" y="21.82" width="4.04" height="4.04" fill="rgb(12,12,12)"/><rect x="14.55" y="21.82" width="4.04" height="4.04" fill="rgb(90,90,90)"/><rect x="18.18" y="21.82" width="4.04" height="4.04" fill="rgb(180,180,180)"/><rect x="21.82" y="21.82" width="4.04" height="4.04" fill="rgb(150,150,150)"/><rect x="25.45" y="21.82" width="4.04" height="4.04" fill="rgb(22,22,22)"/><rect x="29.09" y="21.82" width="4.04" height="4.04" fill="rgb(17,17,17)"/><rect x="3.64" y="25.45" width="4.04" height="4.04" fill="rgb(10,10,10)"/><rect x="7.27" y="25.45" width="4.04" height="4.04" fill="rgb(13,13,13)"/><rect x="10.91" y="25.45" width="4.04" height="4.04" fill="rgb(11,11,11)"/><rect x="14.55" y="25.45" width="4.04" height="4.04" fill="rgb(47,47,47)"/><rect x="18.18" y="25.45" width="4.04" height="4.04" fill="rgb(23,23,23)"/><rect x="21.82" y="25.45" width="4.04" height="4.04" fill="rgb(29,29,29)"/><rect x="25.45" y="25.45" width="4.04" height="4.04" fill="rgb(21,21,21)"/><rect x="36.36" y="25.45" width="4.04" height="4.04" fill="rgb(15,15,15)"/><rect x="0" y="29.09" width="4.04" height="4.04" fill="rgb(39,39,39)"/><rect x="3.64" y="29.09" width="4.04" height="4.04" fill="rgb(11,11,11)"/><rect x="7.27" y="29.09" width="4.04" height="4.04" fill="rgb(24,24,24)"/><rect x="10.91" y="29.09" width="4.04" height="4.04" fill="rgb(23,23,23)"/><rect x="14.55" y="29.09" width="4.04" height="4.04" fill="rgb(15,15,15)"/><rect x="18.18" y="29.09" width="4.04" height="4.04" fill="rgb(15,15,15)"/><rect x="29.09" y="29.09" width="4.04" height="4.04" fill="rgb(11,11,11)"/><rect x="32.73" y="29.09" width="4.04" height="4.04" fill="rgb(28,28,28)"/><rect x="3.64" y="32.73" width="4.04" height="4.04" fill="rgb(25,25,25)"/><rect x="7.27" y="32.73" width="4.04" height="4.04" fill="rgb(27,27,27)"/><rect x="10.91" y="32.73" width="4.04" height="4.04" fill="rgb(150,150,150)"/><rect x="14.55" y="32.73" width="4.04" height="4.04" fill="rgb(27,27,27)"/><rect x="18.18" y="32.73" width="4.04" height="4.04" fill="rgb(33,33,33)"/><rect x="21.82" y="32.73" width="4.04" height="4.04" fill="rgb(43,43,43)"/><rect x="25.45" y="32.73" width="4.04" height="4.04" fill="rgb(15,15,15)"/><rect x="29.09" y="32.73" width="4.04" height="4.04" fill="rgb(12,12,12)"/><rect x="32.73" y="32.73" width="4.04" height="4.04" fill="rgb(15,15,15)"/><rect x="0" y="36.36" width="4.04" height="4.04" fill="rgb(57,57,57)"/><rect x="7.27" y="36.36" width="4.04" height="4.04" fill="rgb(14,14,14)"/><rect x="10.91" y="36.36" width="4.04" height="4.04" fill="rgb(15,15,15)"/><rect x="14.55" y="36.36" width="4.04" height="4.04" fill="rgb(14,14,14)"/><rect x="18.18" y="36.36" width="4.04" height="4.04" fill="rgb(42,42,42)"/><rect x="21.82" y="36.36" width="4.04" height="4.04" fill="rgb(21,21,21)"/><rect x="29.09" y="36.36" width="4.04" height="4.04" fill="rgb(13,13,13)"/><rect x="32.73" y="36.36" width="4.04" height="4.04" fill="rgb(30,30,30)"/><rect x="36.36" y="36.36" width="4.04" height="4.04" fill="rgb(27,27,27)"/></g></g><g transform="translate(375.2,61.2)" clip-path="url(#imclip)"><g filter="url(#blr)"><rect x="0" y="0" width="40" height="40" fill="#080808"/><rect x="0" y="0" width="4.04" height="4.04" fill="rgb(28,28,28)"/><rect x="3.64" y="0" width="4.04" height="4.04" fill="rgb(19,19,19)"/><rect x="7.27" y="0" width="4.04" height="4.04" fill="rgb(19,19,19)"/><rect x="10.91" y="0" width="4.04" height="4.04" fill="rgb(16,16,16)"/><rect x="14.55" y="0" width="4.04" height="4.04" fill="rgb(23,23,23)"/><rect x="18.18" y="0" width="4.04" height="4.04" fill="rgb(22,22,22)"/><rect x="25.45" y="0" width="4.04" height="4.04" fill="rgb(11,11,11)"/><rect x="29.09" y="0" width="4.04" height="4.04" fill="rgb(11,11,11)"/><rect x="36.36" y="0" width="4.04" height="4.04" fill="rgb(18,18,18)"/><rect x="0" y="3.64" width="4.04" height="4.04" fill="rgb(23,23,23)"/><rect x="3.64" y="3.64" width="4.04" height="4.04" fill="rgb(11,11,11)"/><rect x="7.27" y="3.64" width="4.04" height="4.04" fill="rgb(10,10,10)"/><rect x="14.55" y="3.64" width="4.04" height="4.04" fill="rgb(11,11,11)"/><rect x="18.18" y="3.64" width="4.04" height="4.04" fill="rgb(23,23,23)"/><rect x="21.82" y="3.64" width="4.04" height="4.04" fill="rgb(34,34,34)"/><rect x="25.45" y="3.64" width="4.04" height="4.04" fill="rgb(15,15,15)"/><rect x="29.09" y="3.64" width="4.04" height="4.04" fill="rgb(42,42,42)"/><rect x="32.73" y="3.64" width="4.04" height="4.04" fill="rgb(31,31,31)"/><rect x="0" y="7.27" width="4.04" height="4.04" fill="rgb(38,38,38)"/><rect x="3.64" y="7.27" width="4.04" height="4.04" fill="rgb(60,60,60)"/><rect x="7.27" y="7.27" width="4.04" height="4.04" fill="rgb(31,31,31)"/><rect x="18.18" y="7.27" width="4.04" height="4.04" fill="rgb(80,80,80)"/><rect x="21.82" y="7.27" width="4.04" height="4.04" fill="rgb(17,17,17)"/><rect x="25.45" y="7.27" width="4.04" height="4.04" fill="rgb(15,15,15)"/><rect x="32.73" y="7.27" width="4.04" height="4.04" fill="rgb(21,21,21)"/><rect x="36.36" y="7.27" width="4.04" height="4.04" fill="rgb(37,37,37)"/><rect x="7.27" y="10.91" width="4.04" height="4.04" fill="rgb(110,110,110)"/><rect x="10.91" y="10.91" width="4.04" height="4.04" fill="rgb(100,100,100)"/><rect x="14.55" y="10.91" width="4.04" height="4.04" fill="rgb(13,13,13)"/><rect x="18.18" y="10.91" width="4.04" height="4.04" fill="rgb(32,32,32)"/><rect x="21.82" y="10.91" width="4.04" height="4.04" fill="rgb(18,18,18)"/><rect x="25.45" y="10.91" width="4.04" height="4.04" fill="rgb(90,90,90)"/><rect x="29.09" y="10.91" width="4.04" height="4.04" fill="rgb(70,70,70)"/><rect x="32.73" y="10.91" width="4.04" height="4.04" fill="rgb(13,13,13)"/><rect x="0" y="14.55" width="4.04" height="4.04" fill="rgb(16,16,16)"/><rect x="3.64" y="14.55" width="4.04" height="4.04" fill="rgb(24,24,24)"/><rect x="7.27" y="14.55" width="4.04" height="4.04" fill="rgb(19,19,19)"/><rect x="10.91" y="14.55" width="4.04" height="4.04" fill="rgb(22,22,22)"/><rect x="14.55" y="14.55" width="4.04" height="4.04" fill="rgb(100,100,100)"/><rect x="18.18" y="14.55" width="4.04" height="4.04" fill="rgb(140,140,140)"/><rect x="21.82" y="14.55" width="4.04" height="4.04" fill="rgb(110,110,110)"/><rect x="25.45" y="14.55" width="4.04" height="4.04" fill="rgb(80,80,80)"/><rect x="36.36" y="14.55" width="4.04" height="4.04" fill="rgb(19,19,19)"/><rect x="0" y="18.18" width="4.04" height="4.04" fill="rgb(37,37,37)"/><rect x="3.64" y="18.18" width="4.04" height="4.04" fill="rgb(27,27,27)"/><rect x="7.27" y="18.18" width="4.04" height="4.04" fill="rgb(110,110,110)"/><rect x="10.91" y="18.18" width="4.04" height="4.04" fill="rgb(120,120,120)"/><rect x="14.55" y="18.18" width="4.04" height="4.04" fill="rgb(200,200,200)"/><rect x="18.18" y="18.18" width="4.04" height="4.04" fill="rgb(255,255,255)"/><rect x="21.82" y="18.18" width="4.04" height="4.04" fill="rgb(200,200,200)"/><rect x="25.45" y="18.18" width="4.04" height="4.04" fill="rgb(15,15,15)"/><rect x="29.09" y="18.18" width="4.04" height="4.04" fill="rgb(28,28,28)"/><rect x="32.73" y="18.18" width="4.04" height="4.04" fill="rgb(14,14,14)"/><rect x="0" y="21.82" width="4.04" height="4.04" fill="rgb(11,11,11)"/><rect x="3.64" y="21.82" width="4.04" height="4.04" fill="rgb(12,12,12)"/><rect x="7.27" y="21.82" width="4.04" height="4.04" fill="rgb(100,100,100)"/><rect x="10.91" y="21.82" width="4.04" height="4.04" fill="rgb(110,110,110)"/><rect x="14.55" y="21.82" width="4.04" height="4.04" fill="rgb(200,200,200)"/><rect x="18.18" y="21.82" width="4.04" height="4.04" fill="rgb(180,180,180)"/><rect x="21.82" y="21.82" width="4.04" height="4.04" fill="rgb(190,190,190)"/><rect x="25.45" y="21.82" width="4.04" height="4.04" fill="rgb(13,13,13)"/><rect x="29.09" y="21.82" width="4.04" height="4.04" fill="rgb(32,32,32)"/><rect x="0" y="25.45" width="4.04" height="4.04" fill="rgb(34,34,34)"/><rect x="7.27" y="25.45" width="4.04" height="4.04" fill="rgb(23,23,23)"/><rect x="14.55" y="25.45" width="4.04" height="4.04" fill="rgb(170,170,170)"/><rect x="18.18" y="25.45" width="4.04" height="4.04" fill="rgb(100,100,100)"/><rect x="21.82" y="25.45" width="4.04" height="4.04" fill="rgb(15,15,15)"/><rect x="32.73" y="25.45" width="4.04" height="4.04" fill="rgb(19,19,19)"/><rect x="0" y="29.09" width="4.04" height="4.04" fill="rgb(13,13,13)"/><rect x="3.64" y="29.09" width="4.04" height="4.04" fill="rgb(18,18,18)"/><rect x="14.55" y="29.09" width="4.04" height="4.04" fill="rgb(130,130,130)"/><rect x="18.18" y="29.09" width="4.04" height="4.04" fill="rgb(11,11,11)"/><rect x="21.82" y="29.09" width="4.04" height="4.04" fill="rgb(28,28,28)"/><rect x="25.45" y="29.09" width="4.04" height="4.04" fill="rgb(120,120,120)"/><rect x="29.09" y="29.09" width="4.04" height="4.04" fill="rgb(31,31,31)"/><rect x="32.73" y="29.09" width="4.04" height="4.04" fill="rgb(25,25,25)"/><rect x="36.36" y="29.09" width="4.04" height="4.04" fill="rgb(30,30,30)"/><rect x="0" y="32.73" width="4.04" height="4.04" fill="rgb(11,11,11)"/><rect x="3.64" y="32.73" width="4.04" height="4.04" fill="rgb(23,23,23)"/><rect x="7.27" y="32.73" width="4.04" height="4.04" fill="rgb(26,26,26)"/><rect x="10.91" y="32.73" width="4.04" height="4.04" fill="rgb(27,27,27)"/><rect x="21.82" y="32.73" width="4.04" height="4.04" fill="rgb(11,11,11)"/><rect x="32.73" y="32.73" width="4.04" height="4.04" fill="rgb(22,22,22)"/><rect x="36.36" y="32.73" width="4.04" height="4.04" fill="rgb(19,19,19)"/><rect x="7.27" y="36.36" width="4.04" height="4.04" fill="rgb(16,16,16)"/><rect x="10.91" y="36.36" width="4.04" height="4.04" fill="rgb(31,31,31)"/><rect x="14.55" y="36.36" width="4.04" height="4.04" fill="rgb(10,10,10)"/><rect x="18.18" y="36.36" width="4.04" height="4.04" fill="rgb(11,11,11)"/><rect x="21.82" y="36.36" width="4.04" height="4.04" fill="rgb(12,12,12)"/><rect x="25.45" y="36.36" width="4.04" height="4.04" fill="rgb(10,10,10)"/><rect x="29.09" y="36.36" width="4.04" height="4.04" fill="rgb(29,29,29)"/><rect x="32.73" y="36.36" width="4.04" height="4.04" fill="rgb(24,24,24)"/><rect x="36.36" y="36.36" width="4.04" height="4.04" fill="rgb(20,20,20)"/></g></g><g transform="translate(417.2,10.6)" clip-path="url(#imclip)"><g filter="url(#blr)"><rect x="0" y="0" width="40" height="40" fill="#080808"/><rect x="0" y="0" width="4.04" height="4.04" fill="rgb(19,19,19)"/><rect x="3.64" y="0" width="4.04" height="4.04" fill="rgb(13,13,13)"/><rect x="7.27" y="0" width="4.04" height="4.04" fill="rgb(18,18,18)"/><rect x="10.91" y="0" width="4.04" height="4.04" fill="rgb(14,14,14)"/><rect x="14.55" y="0" width="4.04" height="4.04" fill="rgb(32,32,32)"/><rect x="18.18" y="0" width="4.04" height="4.04" fill="rgb(25,25,25)"/><rect x="21.82" y="0" width="4.04" height="4.04" fill="rgb(12,12,12)"/><rect x="25.45" y="0" width="4.04" height="4.04" fill="rgb(15,15,15)"/><rect x="29.09" y="0" width="4.04" height="4.04" fill="rgb(27,27,27)"/><rect x="32.73" y="0" width="4.04" height="4.04" fill="rgb(10,10,10)"/><rect x="36.36" y="0" width="4.04" height="4.04" fill="rgb(40,40,40)"/><rect x="7.27" y="3.64" width="4.04" height="4.04" fill="rgb(56,56,56)"/><rect x="14.55" y="3.64" width="4.04" height="4.04" fill="rgb(25,25,25)"/><rect x="18.18" y="3.64" width="4.04" height="4.04" fill="rgb(11,11,11)"/><rect x="21.82" y="3.64" width="4.04" height="4.04" fill="rgb(14,14,14)"/><rect x="29.09" y="3.64" width="4.04" height="4.04" fill="rgb(13,13,13)"/><rect x="32.73" y="3.64" width="4.04" height="4.04" fill="rgb(19,19,19)"/><rect x="0" y="7.27" width="4.04" height="4.04" fill="rgb(28,28,28)"/><rect x="3.64" y="7.27" width="4.04" height="4.04" fill="rgb(14,14,14)"/><rect x="10.91" y="7.27" width="4.04" height="4.04" fill="rgb(13,13,13)"/><rect x="25.45" y="7.27" width="4.04" height="4.04" fill="rgb(24,24,24)"/><rect x="29.09" y="7.27" width="4.04" height="4.04" fill="rgb(18,18,18)"/><rect x="32.73" y="7.27" width="4.04" height="4.04" fill="rgb(32,32,32)"/><rect x="3.64" y="10.91" width="4.04" height="4.04" fill="rgb(25,25,25)"/><rect x="7.27" y="10.91" width="4.04" height="4.04" fill="rgb(16,16,16)"/><rect x="10.91" y="10.91" width="4.04" height="4.04" fill="rgb(19,19,19)"/><rect x="14.55" y="10.91" width="4.04" height="4.04" fill="rgb(50,50,50)"/><rect x="21.82" y="10.91" width="4.04" height="4.04" fill="rgb(10,10,10)"/><rect x="25.45" y="10.91" width="4.04" height="4.04" fill="rgb(28,28,28)"/><rect x="32.73" y="10.91" width="4.04" height="4.04" fill="rgb(24,24,24)"/><rect x="36.36" y="10.91" width="4.04" height="4.04" fill="rgb(18,18,18)"/><rect x="3.64" y="14.55" width="4.04" height="4.04" fill="rgb(14,14,14)"/><rect x="7.27" y="14.55" width="4.04" height="4.04" fill="rgb(32,32,32)"/><rect x="10.91" y="14.55" width="4.04" height="4.04" fill="rgb(70,70,70)"/><rect x="14.55" y="14.55" width="4.04" height="4.04" fill="rgb(200,200,200)"/><rect x="18.18" y="14.55" width="4.04" height="4.04" fill="rgb(200,200,200)"/><rect x="29.09" y="14.55" width="4.04" height="4.04" fill="rgb(13,13,13)"/><rect x="36.36" y="14.55" width="4.04" height="4.04" fill="rgb(22,22,22)"/><rect x="0" y="18.18" width="4.04" height="4.04" fill="rgb(41,41,41)"/><rect x="3.64" y="18.18" width="4.04" height="4.04" fill="rgb(19,19,19)"/><rect x="10.91" y="18.18" width="4.04" height="4.04" fill="rgb(110,110,110)"/><rect x="14.55" y="18.18" width="4.04" height="4.04" fill="rgb(255,255,255)"/><rect x="18.18" y="18.18" width="4.04" height="4.04" fill="rgb(250,250,250)"/><rect x="21.82" y="18.18" width="4.04" height="4.04" fill="rgb(50,50,50)"/><rect x="25.45" y="18.18" width="4.04" height="4.04" fill="rgb(19,19,19)"/><rect x="29.09" y="18.18" width="4.04" height="4.04" fill="rgb(20,20,20)"/><rect x="32.73" y="18.18" width="4.04" height="4.04" fill="rgb(26,26,26)"/><rect x="36.36" y="18.18" width="4.04" height="4.04" fill="rgb(25,25,25)"/><rect x="0" y="21.82" width="4.04" height="4.04" fill="rgb(19,19,19)"/><rect x="7.27" y="21.82" width="4.04" height="4.04" fill="rgb(21,21,21)"/><rect x="10.91" y="21.82" width="4.04" height="4.04" fill="rgb(15,15,15)"/><rect x="14.55" y="21.82" width="4.04" height="4.04" fill="rgb(190,190,190)"/><rect x="18.18" y="21.82" width="4.04" height="4.04" fill="rgb(180,180,180)"/><rect x="21.82" y="21.82" width="4.04" height="4.04" fill="rgb(12,12,12)"/><rect x="25.45" y="21.82" width="4.04" height="4.04" fill="rgb(17,17,17)"/><rect x="29.09" y="21.82" width="4.04" height="4.04" fill="rgb(20,20,20)"/><rect x="32.73" y="21.82" width="4.04" height="4.04" fill="rgb(31,31,31)"/><rect x="36.36" y="21.82" width="4.04" height="4.04" fill="rgb(21,21,21)"/><rect x="0" y="25.45" width="4.04" height="4.04" fill="rgb(16,16,16)"/><rect x="10.91" y="25.45" width="4.04" height="4.04" fill="rgb(14,14,14)"/><rect x="14.55" y="25.45" width="4.04" height="4.04" fill="rgb(40,40,40)"/><rect x="21.82" y="25.45" width="4.04" height="4.04" fill="rgb(10,10,10)"/><rect x="25.45" y="25.45" width="4.04" height="4.04" fill="rgb(21,21,21)"/><rect x="29.09" y="25.45" width="4.04" height="4.04" fill="rgb(51,51,51)"/><rect x="32.73" y="25.45" width="4.04" height="4.04" fill="rgb(15,15,15)"/><rect x="0" y="29.09" width="4.04" height="4.04" fill="rgb(11,11,11)"/><rect x="7.27" y="29.09" width="4.04" height="4.04" fill="rgb(21,21,21)"/><rect x="10.91" y="29.09" width="4.04" height="4.04" fill="rgb(10,10,10)"/><rect x="18.18" y="29.09" width="4.04" height="4.04" fill="rgb(17,17,17)"/><rect x="21.82" y="29.09" width="4.04" height="4.04" fill="rgb(16,16,16)"/><rect x="29.09" y="29.09" width="4.04" height="4.04" fill="rgb(15,15,15)"/><rect x="36.36" y="29.09" width="4.04" height="4.04" fill="rgb(18,18,18)"/><rect x="7.27" y="32.73" width="4.04" height="4.04" fill="rgb(14,14,14)"/><rect x="10.91" y="32.73" width="4.04" height="4.04" fill="rgb(11,11,11)"/><rect x="18.18" y="32.73" width="4.04" height="4.04" fill="rgb(18,18,18)"/><rect x="25.45" y="32.73" width="4.04" height="4.04" fill="rgb(11,11,11)"/><rect x="29.09" y="32.73" width="4.04" height="4.04" fill="rgb(11,11,11)"/><rect x="32.73" y="32.73" width="4.04" height="4.04" fill="rgb(30,30,30)"/><rect x="36.36" y="32.73" width="4.04" height="4.04" fill="rgb(24,24,24)"/><rect x="0" y="36.36" width="4.04" height="4.04" fill="rgb(13,13,13)"/><rect x="3.64" y="36.36" width="4.04" height="4.04" fill="rgb(18,18,18)"/><rect x="10.91" y="36.36" width="4.04" height="4.04" fill="rgb(26,26,26)"/><rect x="14.55" y="36.36" width="4.04" height="4.04" fill="rgb(24,24,24)"/><rect x="18.18" y="36.36" width="4.04" height="4.04" fill="rgb(11,11,11)"/><rect x="21.82" y="36.36" width="4.04" height="4.04" fill="rgb(20,20,20)"/><rect x="25.45" y="36.36" width="4.04" height="4.04" fill="rgb(34,34,34)"/><rect x="29.09" y="36.36" width="4.04" height="4.04" fill="rgb(19,19,19)"/><rect x="32.73" y="36.36" width="4.04" height="4.04" fill="rgb(14,14,14)"/><rect x="36.36" y="36.36" width="4.04" height="4.04" fill="rgb(29,29,29)"/></g></g><g transform="translate(417.2,61.2)" clip-path="url(#imclip)"><g filter="url(#blr)"><rect x="0" y="0" width="40" height="40" fill="#080808"/><rect x="0" y="0" width="4.04" height="4.04" fill="rgb(11,11,11)"/><rect x="3.64" y="0" width="4.04" height="4.04" fill="rgb(17,17,17)"/><rect x="7.27" y="0" width="4.04" height="4.04" fill="rgb(17,17,17)"/><rect x="10.91" y="0" width="4.04" height="4.04" fill="rgb(16,16,16)"/><rect x="14.55" y="0" width="4.04" height="4.04" fill="rgb(16,16,16)"/><rect x="18.18" y="0" width="4.04" height="4.04" fill="rgb(12,12,12)"/><rect x="21.82" y="0" width="4.04" height="4.04" fill="rgb(31,31,31)"/><rect x="25.45" y="0" width="4.04" height="4.04" fill="rgb(18,18,18)"/><rect x="29.09" y="0" width="4.04" height="4.04" fill="rgb(54,54,54)"/><rect x="32.73" y="0" width="4.04" height="4.04" fill="rgb(23,23,23)"/><rect x="36.36" y="0" width="4.04" height="4.04" fill="rgb(30,30,30)"/><rect x="0" y="3.64" width="4.04" height="4.04" fill="rgb(28,28,28)"/><rect x="7.27" y="3.64" width="4.04" height="4.04" fill="rgb(23,23,23)"/><rect x="14.55" y="3.64" width="4.04" height="4.04" fill="rgb(11,11,11)"/><rect x="21.82" y="3.64" width="4.04" height="4.04" fill="rgb(14,14,14)"/><rect x="25.45" y="3.64" width="4.04" height="4.04" fill="rgb(17,17,17)"/><rect x="29.09" y="3.64" width="4.04" height="4.04" fill="rgb(10,10,10)"/><rect x="32.73" y="3.64" width="4.04" height="4.04" fill="rgb(31,31,31)"/><rect x="36.36" y="3.64" width="4.04" height="4.04" fill="rgb(29,29,29)"/><rect x="7.27" y="7.27" width="4.04" height="4.04" fill="rgb(19,19,19)"/><rect x="10.91" y="7.27" width="4.04" height="4.04" fill="rgb(28,28,28)"/><rect x="18.18" y="7.27" width="4.04" height="4.04" fill="rgb(13,13,13)"/><rect x="21.82" y="7.27" width="4.04" height="4.04" fill="rgb(14,14,14)"/><rect x="29.09" y="7.27" width="4.04" height="4.04" fill="rgb(31,31,31)"/><rect x="32.73" y="7.27" width="4.04" height="4.04" fill="rgb(35,35,35)"/><rect x="36.36" y="7.27" width="4.04" height="4.04" fill="rgb(39,39,39)"/><rect x="3.64" y="10.91" width="4.04" height="4.04" fill="rgb(10,10,10)"/><rect x="7.27" y="10.91" width="4.04" height="4.04" fill="rgb(13,13,13)"/><rect x="10.91" y="10.91" width="4.04" height="4.04" fill="rgb(30,30,30)"/><rect x="14.55" y="10.91" width="4.04" height="4.04" fill="rgb(70,70,70)"/><rect x="18.18" y="10.91" width="4.04" height="4.04" fill="rgb(80,80,80)"/><rect x="21.82" y="10.91" width="4.04" height="4.04" fill="rgb(60,60,60)"/><rect x="25.45" y="10.91" width="4.04" height="4.04" fill="rgb(16,16,16)"/><rect x="29.09" y="10.91" width="4.04" height="4.04" fill="rgb(14,14,14)"/><rect x="32.73" y="10.91" width="4.04" height="4.04" fill="rgb(34,34,34)"/><rect x="36.36" y="10.91" width="4.04" height="4.04" fill="rgb(10,10,10)"/><rect x="0" y="14.55" width="4.04" height="4.04" fill="rgb(21,21,21)"/><rect x="3.64" y="14.55" width="4.04" height="4.04" fill="rgb(10,10,10)"/><rect x="7.27" y="14.55" width="4.04" height="4.04" fill="rgb(25,25,25)"/><rect x="10.91" y="14.55" width="4.04" height="4.04" fill="rgb(46,46,46)"/><rect x="14.55" y="14.55" width="4.04" height="4.04" fill="rgb(200,200,200)"/><rect x="18.18" y="14.55" width="4.04" height="4.04" fill="rgb(210,210,210)"/><rect x="21.82" y="14.55" width="4.04" height="4.04" fill="rgb(190,190,190)"/><rect x="25.45" y="14.55" width="4.04" height="4.04" fill="rgb(16,16,16)"/><rect x="29.09" y="14.55" width="4.04" height="4.04" fill="rgb(80,80,80)"/><rect x="32.73" y="14.55" width="4.04" height="4.04" fill="rgb(70,70,70)"/><rect x="36.36" y="14.55" width="4.04" height="4.04" fill="rgb(47,47,47)"/><rect x="0" y="18.18" width="4.04" height="4.04" fill="rgb(12,12,12)"/><rect x="3.64" y="18.18" width="4.04" height="4.04" fill="rgb(18,18,18)"/><rect x="7.27" y="18.18" width="4.04" height="4.04" fill="rgb(32,32,32)"/><rect x="10.91" y="18.18" width="4.04" height="4.04" fill="rgb(80,80,80)"/><rect x="14.55" y="18.18" width="4.04" height="4.04" fill="rgb(255,255,255)"/><rect x="18.18" y="18.18" width="4.04" height="4.04" fill="rgb(240,240,240)"/><rect x="21.82" y="18.18" width="4.04" height="4.04" fill="rgb(200,200,200)"/><rect x="25.45" y="18.18" width="4.04" height="4.04" fill="rgb(30,30,30)"/><rect x="29.09" y="18.18" width="4.04" height="4.04" fill="rgb(100,100,100)"/><rect x="32.73" y="18.18" width="4.04" height="4.04" fill="rgb(12,12,12)"/><rect x="36.36" y="18.18" width="4.04" height="4.04" fill="rgb(19,19,19)"/><rect x="0" y="21.82" width="4.04" height="4.04" fill="rgb(23,23,23)"/><rect x="10.91" y="21.82" width="4.04" height="4.04" fill="rgb(18,18,18)"/><rect x="14.55" y="21.82" width="4.04" height="4.04" fill="rgb(110,110,110)"/><rect x="18.18" y="21.82" width="4.04" height="4.04" fill="rgb(120,120,120)"/><rect x="21.82" y="21.82" width="4.04" height="4.04" fill="rgb(90,90,90)"/><rect x="32.73" y="21.82" width="4.04" height="4.04" fill="rgb(17,17,17)"/><rect x="36.36" y="21.82" width="4.04" height="4.04" fill="rgb(12,12,12)"/><rect x="0" y="25.45" width="4.04" height="4.04" fill="rgb(25,25,25)"/><rect x="3.64" y="25.45" width="4.04" height="4.04" fill="rgb(16,16,16)"/><rect x="7.27" y="25.45" width="4.04" height="4.04" fill="rgb(11,11,11)"/><rect x="10.91" y="25.45" width="4.04" height="4.04" fill="rgb(19,19,19)"/><rect x="14.55" y="25.45" width="4.04" height="4.04" fill="rgb(20,20,20)"/><rect x="18.18" y="25.45" width="4.04" height="4.04" fill="rgb(60,60,60)"/><rect x="21.82" y="25.45" width="4.04" height="4.04" fill="rgb(13,13,13)"/><rect x="25.45" y="25.45" width="4.04" height="4.04" fill="rgb(10,10,10)"/><rect x="29.09" y="25.45" width="4.04" height="4.04" fill="rgb(30,30,30)"/><rect x="32.73" y="25.45" width="4.04" height="4.04" fill="rgb(13,13,13)"/><rect x="36.36" y="25.45" width="4.04" height="4.04" fill="rgb(11,11,11)"/><rect x="0" y="29.09" width="4.04" height="4.04" fill="rgb(16,16,16)"/><rect x="7.27" y="29.09" width="4.04" height="4.04" fill="rgb(11,11,11)"/><rect x="14.55" y="29.09" width="4.04" height="4.04" fill="rgb(20,20,20)"/><rect x="18.18" y="29.09" width="4.04" height="4.04" fill="rgb(24,24,24)"/><rect x="21.82" y="29.09" width="4.04" height="4.04" fill="rgb(60,60,60)"/><rect x="25.45" y="29.09" width="4.04" height="4.04" fill="rgb(44,44,44)"/><rect x="29.09" y="29.09" width="4.04" height="4.04" fill="rgb(11,11,11)"/><rect x="32.73" y="29.09" width="4.04" height="4.04" fill="rgb(17,17,17)"/><rect x="36.36" y="29.09" width="4.04" height="4.04" fill="rgb(10,10,10)"/><rect x="7.27" y="32.73" width="4.04" height="4.04" fill="rgb(23,23,23)"/><rect x="10.91" y="32.73" width="4.04" height="4.04" fill="rgb(70,70,70)"/><rect x="14.55" y="32.73" width="4.04" height="4.04" fill="rgb(12,12,12)"/><rect x="18.18" y="32.73" width="4.04" height="4.04" fill="rgb(10,10,10)"/><rect x="25.45" y="32.73" width="4.04" height="4.04" fill="rgb(19,19,19)"/><rect x="29.09" y="32.73" width="4.04" height="4.04" fill="rgb(11,11,11)"/><rect x="0" y="36.36" width="4.04" height="4.04" fill="rgb(20,20,20)"/><rect x="3.64" y="36.36" width="4.04" height="4.04" fill="rgb(26,26,26)"/><rect x="7.27" y="36.36" width="4.04" height="4.04" fill="rgb(12,12,12)"/><rect x="10.91" y="36.36" width="4.04" height="4.04" fill="rgb(10,10,10)"/><rect x="14.55" y="36.36" width="4.04" height="4.04" fill="rgb(47,47,47)"/><rect x="21.82" y="36.36" width="4.04" height="4.04" fill="rgb(13,13,13)"/><rect x="25.45" y="36.36" width="4.04" height="4.04" fill="rgb(33,33,33)"/><rect x="29.09" y="36.36" width="4.04" height="4.04" fill="rgb(35,35,35)"/><rect x="32.73" y="36.36" width="4.04" height="4.04" fill="rgb(26,26,26)"/><rect x="36.36" y="36.36" width="4.04" height="4.04" fill="rgb(11,11,11)"/></g></g><g transform="translate(459.2,10.6)" clip-path="url(#imclip)"><g filter="url(#blr)"><rect x="0" y="0" width="40" height="40" fill="#080808"/><rect x="0" y="0" width="4.04" height="4.04" fill="rgb(12,12,12)"/><rect x="3.64" y="0" width="4.04" height="4.04" fill="rgb(13,13,13)"/><rect x="10.91" y="0" width="4.04" height="4.04" fill="rgb(33,33,33)"/><rect x="18.18" y="0" width="4.04" height="4.04" fill="rgb(18,18,18)"/><rect x="25.45" y="0" width="4.04" height="4.04" fill="rgb(14,14,14)"/><rect x="29.09" y="0" width="4.04" height="4.04" fill="rgb(28,28,28)"/><rect x="32.73" y="0" width="4.04" height="4.04" fill="rgb(17,17,17)"/><rect x="36.36" y="0" width="4.04" height="4.04" fill="rgb(27,27,27)"/><rect x="0" y="3.64" width="4.04" height="4.04" fill="rgb(35,35,35)"/><rect x="3.64" y="3.64" width="4.04" height="4.04" fill="rgb(23,23,23)"/><rect x="7.27" y="3.64" width="4.04" height="4.04" fill="rgb(16,16,16)"/><rect x="10.91" y="3.64" width="4.04" height="4.04" fill="rgb(23,23,23)"/><rect x="14.55" y="3.64" width="4.04" height="4.04" fill="rgb(20,20,20)"/><rect x="21.82" y="3.64" width="4.04" height="4.04" fill="rgb(16,16,16)"/><rect x="25.45" y="3.64" width="4.04" height="4.04" fill="rgb(13,13,13)"/><rect x="29.09" y="3.64" width="4.04" height="4.04" fill="rgb(49,49,49)"/><rect x="36.36" y="3.64" width="4.04" height="4.04" fill="rgb(11,11,11)"/><rect x="0" y="7.27" width="4.04" height="4.04" fill="rgb(24,24,24)"/><rect x="7.27" y="7.27" width="4.04" height="4.04" fill="rgb(22,22,22)"/><rect x="10.91" y="7.27" width="4.04" height="4.04" fill="rgb(24,24,24)"/><rect x="21.82" y="7.27" width="4.04" height="4.04" fill="rgb(70,70,70)"/><rect x="25.45" y="7.27" width="4.04" height="4.04" fill="rgb(32,32,32)"/><rect x="29.09" y="7.27" width="4.04" height="4.04" fill="rgb(70,70,70)"/><rect x="0" y="10.91" width="4.04" height="4.04" fill="rgb(13,13,13)"/><rect x="3.64" y="10.91" width="4.04" height="4.04" fill="rgb(10,10,10)"/><rect x="18.18" y="10.91" width="4.04" height="4.04" fill="rgb(12,12,12)"/><rect x="21.82" y="10.91" width="4.04" height="4.04" fill="rgb(21,21,21)"/><rect x="32.73" y="10.91" width="4.04" height="4.04" fill="rgb(15,15,15)"/><rect x="36.36" y="10.91" width="4.04" height="4.04" fill="rgb(23,23,23)"/><rect x="0" y="14.55" width="4.04" height="4.04" fill="rgb(17,17,17)"/><rect x="3.64" y="14.55" width="4.04" height="4.04" fill="rgb(36,36,36)"/><rect x="10.91" y="14.55" width="4.04" height="4.04" fill="rgb(100,100,100)"/><rect x="14.55" y="14.55" width="4.04" height="4.04" fill="rgb(130,130,130)"/><rect x="18.18" y="14.55" width="4.04" height="4.04" fill="rgb(120,120,120)"/><rect x="21.82" y="14.55" width="4.04" height="4.04" fill="rgb(90,90,90)"/><rect x="25.45" y="14.55" width="4.04" height="4.04" fill="rgb(16,16,16)"/><rect x="29.09" y="14.55" width="4.04" height="4.04" fill="rgb(22,22,22)"/><rect x="3.64" y="18.18" width="4.04" height="4.04" fill="rgb(14,14,14)"/><rect x="10.91" y="18.18" width="4.04" height="4.04" fill="rgb(80,80,80)"/><rect x="14.55" y="18.18" width="4.04" height="4.04" fill="rgb(255,255,255)"/><rect x="18.18" y="18.18" width="4.04" height="4.04" fill="rgb(240,240,240)"/><rect x="21.82" y="18.18" width="4.04" height="4.04" fill="rgb(100,100,100)"/><rect x="25.45" y="18.18" width="4.04" height="4.04" fill="rgb(13,13,13)"/><rect x="36.36" y="18.18" width="4.04" height="4.04" fill="rgb(38,38,38)"/><rect x="0" y="21.82" width="4.04" height="4.04" fill="rgb(23,23,23)"/><rect x="7.27" y="21.82" width="4.04" height="4.04" fill="rgb(12,12,12)"/><rect x="10.91" y="21.82" width="4.04" height="4.04" fill="rgb(150,150,150)"/><rect x="14.55" y="21.82" width="4.04" height="4.04" fill="rgb(180,180,180)"/><rect x="18.18" y="21.82" width="4.04" height="4.04" fill="rgb(170,170,170)"/><rect x="21.82" y="21.82" width="4.04" height="4.04" fill="rgb(130,130,130)"/><rect x="25.45" y="21.82" width="4.04" height="4.04" fill="rgb(80,80,80)"/><rect x="29.09" y="21.82" width="4.04" height="4.04" fill="rgb(15,15,15)"/><rect x="32.73" y="21.82" width="4.04" height="4.04" fill="rgb(20,20,20)"/><rect x="36.36" y="21.82" width="4.04" height="4.04" fill="rgb(10,10,10)"/><rect x="0" y="25.45" width="4.04" height="4.04" fill="rgb(15,15,15)"/><rect x="3.64" y="25.45" width="4.04" height="4.04" fill="rgb(37,37,37)"/><rect x="7.27" y="25.45" width="4.04" height="4.04" fill="rgb(13,13,13)"/><rect x="14.55" y="25.45" width="4.04" height="4.04" fill="rgb(90,90,90)"/><rect x="18.18" y="25.45" width="4.04" height="4.04" fill="rgb(90,90,90)"/><rect x="21.82" y="25.45" width="4.04" height="4.04" fill="rgb(24,24,24)"/><rect x="25.45" y="25.45" width="4.04" height="4.04" fill="rgb(26,26,26)"/><rect x="29.09" y="25.45" width="4.04" height="4.04" fill="rgb(28,28,28)"/><rect x="32.73" y="25.45" width="4.04" height="4.04" fill="rgb(17,17,17)"/><rect x="36.36" y="25.45" width="4.04" height="4.04" fill="rgb(17,17,17)"/><rect x="0" y="29.09" width="4.04" height="4.04" fill="rgb(12,12,12)"/><rect x="3.64" y="29.09" width="4.04" height="4.04" fill="rgb(13,13,13)"/><rect x="7.27" y="29.09" width="4.04" height="4.04" fill="rgb(19,19,19)"/><rect x="10.91" y="29.09" width="4.04" height="4.04" fill="rgb(21,21,21)"/><rect x="14.55" y="29.09" width="4.04" height="4.04" fill="rgb(13,13,13)"/><rect x="18.18" y="29.09" width="4.04" height="4.04" fill="rgb(13,13,13)"/><rect x="21.82" y="29.09" width="4.04" height="4.04" fill="rgb(22,22,22)"/><rect x="25.45" y="29.09" width="4.04" height="4.04" fill="rgb(14,14,14)"/><rect x="29.09" y="29.09" width="4.04" height="4.04" fill="rgb(15,15,15)"/><rect x="32.73" y="29.09" width="4.04" height="4.04" fill="rgb(17,17,17)"/><rect x="7.27" y="32.73" width="4.04" height="4.04" fill="rgb(15,15,15)"/><rect x="10.91" y="32.73" width="4.04" height="4.04" fill="rgb(15,15,15)"/><rect x="18.18" y="32.73" width="4.04" height="4.04" fill="rgb(12,12,12)"/><rect x="21.82" y="32.73" width="4.04" height="4.04" fill="rgb(22,22,22)"/><rect x="29.09" y="32.73" width="4.04" height="4.04" fill="rgb(14,14,14)"/><rect x="32.73" y="32.73" width="4.04" height="4.04" fill="rgb(13,13,13)"/><rect x="36.36" y="32.73" width="4.04" height="4.04" fill="rgb(14,14,14)"/><rect x="3.64" y="36.36" width="4.04" height="4.04" fill="rgb(18,18,18)"/><rect x="7.27" y="36.36" width="4.04" height="4.04" fill="rgb(24,24,24)"/><rect x="10.91" y="36.36" width="4.04" height="4.04" fill="rgb(27,27,27)"/><rect x="25.45" y="36.36" width="4.04" height="4.04" fill="rgb(14,14,14)"/><rect x="29.09" y="36.36" width="4.04" height="4.04" fill="rgb(12,12,12)"/><rect x="32.73" y="36.36" width="4.04" height="4.04" fill="rgb(14,14,14)"/><rect x="36.36" y="36.36" width="4.04" height="4.04" fill="rgb(29,29,29)"/></g></g><g transform="translate(459.2,61.2)" clip-path="url(#imclip)"><g filter="url(#blr)"><rect x="0" y="0" width="40" height="40" fill="#080808"/><rect x="0" y="0" width="4.04" height="4.04" fill="rgb(17,17,17)"/><rect x="3.64" y="0" width="4.04" height="4.04" fill="rgb(34,34,34)"/><rect x="7.27" y="0" width="4.04" height="4.04" fill="rgb(70,70,70)"/><rect x="14.55" y="0" width="4.04" height="4.04" fill="rgb(15,15,15)"/><rect x="18.18" y="0" width="4.04" height="4.04" fill="rgb(30,30,30)"/><rect x="21.82" y="0" width="4.04" height="4.04" fill="rgb(60,60,60)"/><rect x="25.45" y="0" width="4.04" height="4.04" fill="rgb(44,44,44)"/><rect x="29.09" y="0" width="4.04" height="4.04" fill="rgb(10,10,10)"/><rect x="32.73" y="0" width="4.04" height="4.04" fill="rgb(10,10,10)"/><rect x="36.36" y="0" width="4.04" height="4.04" fill="rgb(17,17,17)"/><rect x="3.64" y="3.64" width="4.04" height="4.04" fill="rgb(34,34,34)"/><rect x="7.27" y="3.64" width="4.04" height="4.04" fill="rgb(11,11,11)"/><rect x="14.55" y="3.64" width="4.04" height="4.04" fill="rgb(80,80,80)"/><rect x="18.18" y="3.64" width="4.04" height="4.04" fill="rgb(15,15,15)"/><rect x="21.82" y="3.64" width="4.04" height="4.04" fill="rgb(19,19,19)"/><rect x="25.45" y="3.64" width="4.04" height="4.04" fill="rgb(15,15,15)"/><rect x="32.73" y="3.64" width="4.04" height="4.04" fill="rgb(30,30,30)"/><rect x="36.36" y="3.64" width="4.04" height="4.04" fill="rgb(16,16,16)"/><rect x="0" y="7.27" width="4.04" height="4.04" fill="rgb(11,11,11)"/><rect x="3.64" y="7.27" width="4.04" height="4.04" fill="rgb(15,15,15)"/><rect x="10.91" y="7.27" width="4.04" height="4.04" fill="rgb(22,22,22)"/><rect x="14.55" y="7.27" width="4.04" height="4.04" fill="rgb(20,20,20)"/><rect x="18.18" y="7.27" width="4.04" height="4.04" fill="rgb(25,25,25)"/><rect x="25.45" y="7.27" width="4.04" height="4.04" fill="rgb(16,16,16)"/><rect x="29.09" y="7.27" width="4.04" height="4.04" fill="rgb(29,29,29)"/><rect x="32.73" y="7.27" width="4.04" height="4.04" fill="rgb(17,17,17)"/><rect x="36.36" y="7.27" width="4.04" height="4.04" fill="rgb(10,10,10)"/><rect x="0" y="10.91" width="4.04" height="4.04" fill="rgb(45,45,45)"/><rect x="14.55" y="10.91" width="4.04" height="4.04" fill="rgb(100,100,100)"/><rect x="18.18" y="10.91" width="4.04" height="4.04" fill="rgb(29,29,29)"/><rect x="21.82" y="10.91" width="4.04" height="4.04" fill="rgb(17,17,17)"/><rect x="25.45" y="10.91" width="4.04" height="4.04" fill="rgb(80,80,80)"/><rect x="29.09" y="10.91" width="4.04" height="4.04" fill="rgb(60,60,60)"/><rect x="32.73" y="10.91" width="4.04" height="4.04" fill="rgb(24,24,24)"/><rect x="36.36" y="10.91" width="4.04" height="4.04" fill="rgb(14,14,14)"/><rect x="0" y="14.55" width="4.04" height="4.04" fill="rgb(25,25,25)"/><rect x="3.64" y="14.55" width="4.04" height="4.04" fill="rgb(18,18,18)"/><rect x="10.91" y="14.55" width="4.04" height="4.04" fill="rgb(22,22,22)"/><rect x="14.55" y="14.55" width="4.04" height="4.04" fill="rgb(19,19,19)"/><rect x="18.18" y="14.55" width="4.04" height="4.04" fill="rgb(140,140,140)"/><rect x="21.82" y="14.55" width="4.04" height="4.04" fill="rgb(120,120,120)"/><rect x="25.45" y="14.55" width="4.04" height="4.04" fill="rgb(90,90,90)"/><rect x="29.09" y="14.55" width="4.04" height="4.04" fill="rgb(48,48,48)"/><rect x="36.36" y="14.55" width="4.04" height="4.04" fill="rgb(30,30,30)"/><rect x="7.27" y="18.18" width="4.04" height="4.04" fill="rgb(24,24,24)"/><rect x="10.91" y="18.18" width="4.04" height="4.04" fill="rgb(130,130,130)"/><rect x="14.55" y="18.18" width="4.04" height="4.04" fill="rgb(170,170,170)"/><rect x="18.18" y="18.18" width="4.04" height="4.04" fill="rgb(250,250,250)"/><rect x="21.82" y="18.18" width="4.04" height="4.04" fill="rgb(200,200,200)"/><rect x="25.45" y="18.18" width="4.04" height="4.04" fill="rgb(12,12,12)"/><rect x="29.09" y="18.18" width="4.04" height="4.04" fill="rgb(21,21,21)"/><rect x="32.73" y="18.18" width="4.04" height="4.04" fill="rgb(24,24,24)"/><rect x="36.36" y="18.18" width="4.04" height="4.04" fill="rgb(17,17,17)"/><rect x="3.64" y="21.82" width="4.04" height="4.04" fill="rgb(12,12,12)"/><rect x="10.91" y="21.82" width="4.04" height="4.04" fill="rgb(140,140,140)"/><rect x="14.55" y="21.82" width="4.04" height="4.04" fill="rgb(220,220,220)"/><rect x="18.18" y="21.82" width="4.04" height="4.04" fill="rgb(200,200,200)"/><rect x="21.82" y="21.82" width="4.04" height="4.04" fill="rgb(120,120,120)"/><rect x="29.09" y="21.82" width="4.04" height="4.04" fill="rgb(80,80,80)"/><rect x="32.73" y="21.82" width="4.04" height="4.04" fill="rgb(17,17,17)"/><rect x="36.36" y="21.82" width="4.04" height="4.04" fill="rgb(13,13,13)"/><rect x="3.64" y="25.45" width="4.04" height="4.04" fill="rgb(20,20,20)"/><rect x="7.27" y="25.45" width="4.04" height="4.04" fill="rgb(12,12,12)"/><rect x="10.91" y="25.45" width="4.04" height="4.04" fill="rgb(150,150,150)"/><rect x="14.55" y="25.45" width="4.04" height="4.04" fill="rgb(230,230,230)"/><rect x="18.18" y="25.45" width="4.04" height="4.04" fill="rgb(150,150,150)"/><rect x="21.82" y="25.45" width="4.04" height="4.04" fill="rgb(110,110,110)"/><rect x="25.45" y="25.45" width="4.04" height="4.04" fill="rgb(100,100,100)"/><rect x="29.09" y="25.45" width="4.04" height="4.04" fill="rgb(11,11,11)"/><rect x="32.73" y="25.45" width="4.04" height="4.04" fill="rgb(27,27,27)"/><rect x="36.36" y="25.45" width="4.04" height="4.04" fill="rgb(17,17,17)"/><rect x="3.64" y="29.09" width="4.04" height="4.04" fill="rgb(34,34,34)"/><rect x="7.27" y="29.09" width="4.04" height="4.04" fill="rgb(11,11,11)"/><rect x="10.91" y="29.09" width="4.04" height="4.04" fill="rgb(15,15,15)"/><rect x="14.55" y="29.09" width="4.04" height="4.04" fill="rgb(130,130,130)"/><rect x="18.18" y="29.09" width="4.04" height="4.04" fill="rgb(110,110,110)"/><rect x="21.82" y="29.09" width="4.04" height="4.04" fill="rgb(26,26,26)"/><rect x="29.09" y="29.09" width="4.04" height="4.04" fill="rgb(16,16,16)"/><rect x="32.73" y="29.09" width="4.04" height="4.04" fill="rgb(20,20,20)"/><rect x="36.36" y="29.09" width="4.04" height="4.04" fill="rgb(13,13,13)"/><rect x="0" y="32.73" width="4.04" height="4.04" fill="rgb(27,27,27)"/><rect x="3.64" y="32.73" width="4.04" height="4.04" fill="rgb(39,39,39)"/><rect x="7.27" y="32.73" width="4.04" height="4.04" fill="rgb(20,20,20)"/><rect x="10.91" y="32.73" width="4.04" height="4.04" fill="rgb(15,15,15)"/><rect x="14.55" y="32.73" width="4.04" height="4.04" fill="rgb(15,15,15)"/><rect x="21.82" y="32.73" width="4.04" height="4.04" fill="rgb(10,10,10)"/><rect x="25.45" y="32.73" width="4.04" height="4.04" fill="rgb(12,12,12)"/><rect x="29.09" y="32.73" width="4.04" height="4.04" fill="rgb(19,19,19)"/><rect x="32.73" y="32.73" width="4.04" height="4.04" fill="rgb(41,41,41)"/><rect x="0" y="36.36" width="4.04" height="4.04" fill="rgb(19,19,19)"/><rect x="7.27" y="36.36" width="4.04" height="4.04" fill="rgb(10,10,10)"/><rect x="14.55" y="36.36" width="4.04" height="4.04" fill="rgb(14,14,14)"/><rect x="21.82" y="36.36" width="4.04" height="4.04" fill="rgb(11,11,11)"/><rect x="25.45" y="36.36" width="4.04" height="4.04" fill="rgb(21,21,21)"/><rect x="29.09" y="36.36" width="4.04" height="4.04" fill="rgb(10,10,10)"/><rect x="36.36" y="36.36" width="4.04" height="4.04" fill="rgb(13,13,13)"/></g></g><text x="247" y="36.2" font-family="'DejaVu Sans', sans-serif" font-size="18.4" fill="#000">slow</text><text x="247.8" y="87" font-family="'DejaVu Sans', sans-serif" font-size="18.6" fill="#000">fast</text><clipPath id="clipB"><rect x="62" y="266.7" width="129" height="128.7"/></clipPath><g clip-path="url(#clipB)" fill="none" stroke-width="1.8" stroke-linejoin="round"><polygon points="126.5,277.47 137.25,277.47 160.25,286.5 170.57,296.6 182.4,319.39 182.4,331 182.4,342.61 170.57,365.4 160.25,375.5 137.25,384.53 126.5,384.53 115.75,384.53 92.75,375.5 82.42,365.4 70.6,342.61 70.6,331 70.6,319.39 82.42,296.6 92.75,286.5 115.75,277.47 126.5,277.47" stroke="#1818c8"/><polygon points="126.5,286.93 137.68,286.93 161.33,302.19 173.16,319.39 173.16,331 173.16,342.61 161.33,359.81 137.68,375.07 126.5,375.07 115.32,375.07 91.67,359.81 79.84,342.61 79.84,331 79.84,319.39 91.67,302.19 115.32,286.93 126.5,286.93" stroke="#2036c8"/><polygon points="126.5,296.6 137.25,296.6 164.56,320.25 164.56,331 164.56,341.75 137.25,365.4 126.5,365.4 115.75,365.4 88.44,341.75 88.44,331 88.44,320.25 115.75,296.6 126.5,296.6" stroke="#2858cc"/><polygon points="126.5,302.83 137.25,302.83 157.25,320.25 157.25,331 157.25,341.75 137.25,359.17 126.5,359.17 115.75,359.17 95.75,341.75 95.75,331 95.75,320.25 115.75,302.83 126.5,302.83" stroke="#2c80d8"/><polygon points="126.5,308.21 137.25,308.21 150.37,320.25 150.37,331 150.37,341.75 137.25,353.79 126.5,353.79 115.75,353.79 102.64,341.75 102.64,331 102.64,320.25 115.75,308.21 126.5,308.21" stroke="#30a8e4"/><polygon points="126.5,314.23 137.25,314.23 143.7,320.25 143.7,331 143.7,341.75 137.25,347.77 126.5,347.77 115.75,347.77 109.3,341.75 109.3,331 109.3,320.25 115.75,314.23 126.5,314.23" stroke="#3cd4f0"/></g><defs><linearGradient id="gB" x1="0" y1="0" x2="0" y2="1"><stop offset="0" stop-color="#14bef0"/><stop offset="1" stop-color="#0a0ae6"/></linearGradient></defs><rect x="193.3" y="266.7" width="6.6" height="128.7" fill="url(#gB)"/><rect x="62" y="266.7" width="129" height="128.7" fill="none" stroke="#3a3a3a" stroke-width="1.1"/><path d="M83.5 395.4v-3.5M83.5 266.7v3.5M62 374h3.5M191 374h-3.5M126.5 395.4v-3.5M126.5 266.7v3.5M62 331h3.5M191 331h-3.5M169.5 395.4v-3.5M169.5 266.7v3.5M62 288h3.5M191 288h-3.5" stroke="#3a3a3a" stroke-width="1" fill="none"/><g font-family="'Liberation Sans', sans-serif" font-size="13.5" fill="#111"><text x="58.4" y="381" text-anchor="end">-200</text><text x="82.6" y="416.1" text-anchor="middle">-200</text><text x="58.4" y="338" text-anchor="end">0</text><text x="126.5" y="416.1" text-anchor="middle">0</text><text x="58.4" y="295" text-anchor="end">200</text><text x="169.5" y="416.1" text-anchor="middle">200</text></g><text x="1.3" y="281.9" font-family="'Liberation Sans', sans-serif" font-size="23.5" fill="#000">B</text><text transform="translate(23.6,331.2) rotate(-90)" text-anchor="middle" font-family="'DejaVu Sans', sans-serif" fill="#000"><tspan font-size="20.5">Y</tspan><tspan font-size="17"> (nm)</tspan></text><clipPath id="clipC"><rect x="62.2" y="423.2" width="128.8" height="128.2"/></clipPath><g clip-path="url(#clipC)" fill="none" stroke-width="1.45" stroke-linejoin="round"><polygon points="150.31,419.04 153.96,423.97 160.19,425.91 174.57,437.71 190.46,451.67 195.39,457.25 195.39,515.21 190.67,519.93 182.3,529.59 170.71,539.25 161.26,546.76 151.6,552.13 148.17,555.99 94.5,556.42 90.85,551.7 81.19,542.9 71.53,534.31 62.3,523.36 57.58,519.5 57.58,457.25 62.3,454.24 72.6,442.22 83.98,431.27 95.57,424.08 99.22,420.32 105.23,418.18" stroke="#127050"/><polygon points="126.7,434.06 137.86,434.06 160.62,443.08 172.42,454.24 182.94,476.57 182.94,487.3 182.94,498.03 172.42,520.36 160.62,531.52 137.86,540.54 126.7,540.54 115.54,540.54 92.78,531.52 80.98,520.36 70.46,498.03 70.46,487.3 70.46,476.57 80.98,454.24 92.78,443.08 115.54,434.06 126.7,434.06" stroke="#1a7654"/><polygon points="126.7,443.29 137.86,443.29 161.48,457.89 173.28,476.57 173.28,487.3 173.28,498.03 161.48,516.71 137.86,531.31 126.7,531.31 115.54,531.31 91.92,516.71 80.12,498.03 80.12,487.3 80.12,476.57 91.92,457.89 115.54,443.29 126.7,443.29" stroke="#268858"/><polygon points="126.7,451.88 137.86,451.88 164.27,476.57 164.27,487.3 164.27,498.03 137.86,522.72 126.7,522.72 115.54,522.72 89.13,498.03 89.13,487.3 89.13,476.57 115.54,451.88 126.7,451.88" stroke="#3aa460"/><polygon points="126.7,460.25 137.43,460.25 155.68,476.57 155.68,487.3 155.68,498.03 137.43,514.35 126.7,514.35 115.97,514.35 97.72,498.03 97.72,487.3 97.72,476.57 115.97,460.25 126.7,460.25" stroke="#58c468"/><polygon points="126.7,468.19 137.43,468.19 146.88,476.57 146.88,487.3 146.88,498.03 137.43,506.41 126.7,506.41 115.97,506.41 106.52,498.03 106.52,487.3 106.52,476.57 115.97,468.19 126.7,468.19" stroke="#78e878"/></g><defs><linearGradient id="gC" x1="0" y1="0" x2="0" y2="1"><stop offset="0" stop-color="#55ec68"/><stop offset="1" stop-color="#0e8060"/></linearGradient></defs><rect x="193.3" y="423.2" width="6.6" height="128.2" fill="url(#gC)"/><rect x="62.2" y="423.2" width="128.8" height="128.2" fill="none" stroke="#3a3a3a" stroke-width="1.1"/><path d="M83.67 551.4v-3.5M83.67 423.2v3.5M62.2 529.83h3.5M191 529.83h-3.5M126.6 551.4v-3.5M126.6 423.2v3.5M62.2 486.9h3.5M191 486.9h-3.5M169.53 551.4v-3.5M169.53 423.2v3.5M62.2 443.97h3.5M191 443.97h-3.5" stroke="#3a3a3a" stroke-width="1" fill="none"/><g font-family="'Liberation Sans', sans-serif" font-size="13.5" fill="#111"><text x="58.4" y="536.83" text-anchor="end">-200</text><text x="82.77" y="572.1" text-anchor="middle">-200</text><text x="58.4" y="493.9" text-anchor="end">0</text><text x="126.6" y="572.1" text-anchor="middle">0</text><text x="58.4" y="450.97" text-anchor="end">200</text><text x="169.53" y="572.1" text-anchor="middle">200</text></g><text x="1.1" y="439.9" font-family="'Liberation Sans', sans-serif" font-size="23.5" fill="#000">C</text><text transform="translate(23.6,487.2) rotate(-90)" text-anchor="middle" font-family="'DejaVu Sans', sans-serif" fill="#000"><tspan font-size="20.5">Y</tspan><tspan font-size="17"> (nm)</tspan></text><text x="99.5" y="597.3" font-family="'DejaVu Sans', sans-serif" fill="#000"><tspan font-size="19.5">X</tspan><tspan font-size="16"> (nm)</tspan></text><path d="M276.1 441H503.5" stroke="#000" stroke-width="1.8" stroke-dasharray="1.3,0.95" fill="none"/><path d="M277.6 430.7L329.16 428.9H503.5" stroke="#8a8a8a" stroke-width="1.3" stroke-dasharray="5.4,5.2" fill="none"/><path d="M427.7 421.2V447.5M425.6 421.2h4.2M503.5 427.2V442.5M501.4 427.2h4.2" stroke="#999" stroke-width="1.1" fill="none"/><path d="M276.1 294.5V520.6M298.92 350.1V493.8M329.08 386.4V473.7M351.9 405V465M374.72 412V463M427.7 428.6V447.7M503.5 435.8V442.7" stroke="#22b422" stroke-width="2.3" fill="none"/><path d="M273.5 295.1h5.2M273.5 520h5.2M296.32 350.7h5.2M296.32 493.2h5.2M326.48 387h5.2M326.48 473.1h5.2M349.3 405.6h5.2M349.3 464.4h5.2M372.12 412.6h5.2M372.12 462.4h5.2M425.1 429.2h5.2M425.1 447.1h5.2M500.9 436.4h5.2M500.9 442.1h5.2" stroke="#1c8c1c" stroke-width="1.7" fill="none"/><path d="M296.62 374h4.6M296.62 485.2h4.6M326.78 390.2h4.6M326.78 465h4.6M349.6 454.4h4.6M372.42 446.7h4.6" stroke="#2a9a2a" stroke-width="0.9" fill="none"/><polyline points="276.1,407.1 298.92,421.9 329.08,429.9 351.9,434.9 374.72,436.8 427.7,437.6 503.5,437.8" stroke="#22a822" stroke-width="2.9" fill="none" stroke-linejoin="round"/><rect x="274.2" y="291.6" width="231.6" height="231.1" fill="none" stroke="#3a3a3a" stroke-width="1.1"/><path d="M276.1 522.7v-3.5M276.1 291.6v3.5M351.9 522.7v-3.5M351.9 291.6v3.5M427.7 522.7v-3.5M427.7 291.6v3.5M503.5 522.7v-3.5M503.5 291.6v3.5M274.2 507.1h3.5M505.8 507.1h-3.5M274.2 476.26h3.5M505.8 476.26h-3.5M274.2 445.42h3.5M505.8 445.42h-3.5M274.2 414.58h3.5M505.8 414.58h-3.5M274.2 383.74h3.5M505.8 383.74h-3.5M274.2 352.9h3.5M505.8 352.9h-3.5M274.2 322.06h3.5M505.8 322.06h-3.5M274.2 291.22h3.5M505.8 291.22h-3.5" stroke="#3a3a3a" stroke-width="1" fill="none"/><g font-family="'Liberation Serif', serif" font-size="14.2" fill="#111" stroke="#111" stroke-width="0.2"><text x="276.1" y="543.8" text-anchor="middle">0</text><text x="351.9" y="543.8" text-anchor="middle">1</text><text x="427.7" y="543.8" text-anchor="middle">2</text><text x="503.5" y="543.8" text-anchor="middle">3</text><text x="269.6" y="514" text-anchor="end">0</text><text x="269.6" y="483.16" text-anchor="end">2</text><text x="269.6" y="452.32" text-anchor="end">4</text><text x="269.6" y="421.48" text-anchor="end">6</text><text x="269.6" y="390.64" text-anchor="end">8</text><text x="269.6" y="359.8" text-anchor="end">10</text><text x="269.6" y="328.96" text-anchor="end">12</text><text x="269.6" y="298.12" text-anchor="end">14</text></g><text x="221.2" y="283.2" font-family="'Liberation Sans', sans-serif" font-size="23.5" fill="#000">D</text><g transform="translate(338.6,568.9) scale(1,1.06)"><text x="0" y="0" font-family="'Liberation Sans', sans-serif" font-size="19.8" fill="#000">log(images)</text></g><g transform="translate(236.9,464) rotate(-90)"><text x="-0.4" y="0" font-family="'Liberation Sans', sans-serif" font-size="18.2" fill="#000" textLength="14.4" lengthAdjust="spacingAndGlyphs">D</text><text x="17.8" y="9.4" font-family="'Liberation Sans', sans-serif" font-size="11.5" fill="#000" textLength="23.6" lengthAdjust="spacingAndGlyphs">fast</text><text x="42.6" y="1.4" font-family="'Liberation Sans', sans-serif" font-size="14.5" fill="#000" textLength="40.2" lengthAdjust="spacingAndGlyphs">(<tspan font-family="'Liberation Serif', serif" font-style="italic">&#956;</tspan>m</text><text x="81.8" y="-9.6" font-family="'Liberation Sans', sans-serif" font-size="10.4" fill="#000">2</text><text x="89.8" y="1.4" font-family="'Liberation Sans', sans-serif" font-size="14.5" fill="#000" textLength="21.4" lengthAdjust="spacingAndGlyphs">/s)</text></g><path d="M397.9 312.8H411.5" stroke="#000" stroke-width="1.7" stroke-dasharray="1.5,1.3"/><path d="M398.8 347.5H410.5" stroke="#888" stroke-width="1.2" stroke-dasharray="3.8,4"/><path d="M398.8 385.8H410.5" stroke="#22b422" stroke-width="2.6"/><text x="412" y="316.6" font-family="'Liberation Sans', sans-serif" font-size="17.3" fill="#000" textLength="13.8" lengthAdjust="spacingAndGlyphs">D</text><text x="425.8" y="324.7" font-family="'Liberation Sans', sans-serif" font-size="12.5" fill="#000" textLength="57.5" lengthAdjust="spacingAndGlyphs">fast,CVE</text><text x="412" y="354" font-family="'Liberation Sans', sans-serif" font-size="17.3" fill="#000" textLength="13.8" lengthAdjust="spacingAndGlyphs">D</text><text x="425.8" y="361" font-family="'Liberation Sans', sans-serif" font-size="12.5" fill="#000" textLength="23.8" lengthAdjust="spacingAndGlyphs">fast</text><text x="450.2" y="352.3" font-family="'Liberation Sans', sans-serif" font-size="12.5" fill="#000" textLength="4.6" lengthAdjust="spacingAndGlyphs">(</text><text x="455.2" y="354.6" font-family="'Liberation Sans', sans-serif" font-size="14.5" fill="#000" textLength="9.2" lengthAdjust="spacingAndGlyphs">&lt;</text><text x="465" y="354.2" font-family="'Liberation Serif', serif" font-size="16" fill="#000" font-style="italic">&#963;</text><text x="466.4" y="347.6" font-family="'Liberation Sans', sans-serif" font-size="12" fill="#000">^</text><text x="476.3" y="344.4" font-family="'Liberation Sans', sans-serif" font-size="11.3" fill="#000">2</text><text x="476.3" y="362.9" font-family="'Liberation Sans', sans-serif" font-size="13.3" fill="#000">a</text><text x="484.2" y="354.6" font-family="'Liberation Sans', sans-serif" font-size="14.5" fill="#000" textLength="9.2" lengthAdjust="spacingAndGlyphs">&gt;</text><text x="493.9" y="352.3" font-family="'Liberation Sans', sans-serif" font-size="12.5" fill="#000" textLength="4.6" lengthAdjust="spacingAndGlyphs">)</text><text x="412.6" y="391.5" font-family="'Liberation Sans', sans-serif" font-size="17.3" fill="#000" textLength="13.8" lengthAdjust="spacingAndGlyphs">D</text><text x="426.2" y="400.4" font-family="'Liberation Sans', sans-serif" font-size="12.5" fill="#000" textLength="23.4" lengthAdjust="spacingAndGlyphs">fast</text><text x="449.6" y="390.6" font-family="'Liberation Sans', sans-serif" font-size="12" fill="#000" textLength="4.6" lengthAdjust="spacingAndGlyphs">(</text><text x="454" y="392.2" font-family="'Liberation Serif', serif" font-size="15" fill="#000" font-style="italic">&#963;</text><text x="465.2" y="384.6" font-family="'Liberation Sans', sans-serif" font-size="11.3" fill="#000">2</text><text x="464.6" y="400" font-family="'Liberation Sans', sans-serif" font-size="13.3" fill="#000">a</text><text x="473.4" y="390.6" font-family="'Liberation Sans', sans-serif" font-size="12" fill="#000" textLength="4.6" lengthAdjust="spacingAndGlyphs">)</text></svg></body></html>
